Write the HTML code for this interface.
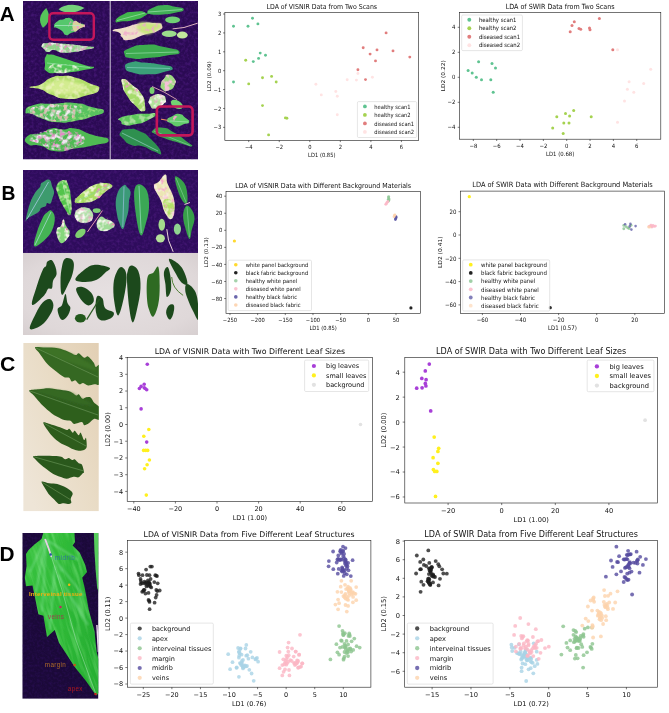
<!DOCTYPE html>
<html><head><meta charset="utf-8"><title>LDA figure</title>
<style>
html,body{margin:0;padding:0;background:#fff;}
svg{display:block;}
text{font-family:"DejaVu Sans","Liberation Sans",sans-serif;fill:#111;}
.pl{font-family:"Liberation Sans",sans-serif;font-weight:bold;font-size:19.3px;fill:#000;}
</style></head><body>
<svg width="669" height="713" viewBox="0 0 669 713">
<defs>
<filter id="b1" x="-5%" y="-5%" width="110%" height="110%"><feGaussianBlur stdDeviation="0.45"/></filter>
<filter id="b2" x="-20%" y="-20%" width="140%" height="140%"><feGaussianBlur stdDeviation="0.9"/></filter>
<filter id="b3" x="-30%" y="-30%" width="160%" height="160%"><feGaussianBlur stdDeviation="1.6"/></filter>
<filter id="sp" x="-5%" y="-5%" width="110%" height="110%" color-interpolation-filters="sRGB">
<feTurbulence type="fractalNoise" baseFrequency="0.2" numOctaves="2" seed="5" result="n"/>
<feColorMatrix in="n" type="matrix" values="0 0 0 0 1  0 0 0 0 1  0 0 0 0 1  4 0 0 0 -1.75" result="a"/>
<feComposite in="SourceGraphic" in2="a" operator="in" result="c"/>
<feGaussianBlur in="c" stdDeviation="0.5"/>
</filter>
<filter id="sp2" x="-5%" y="-5%" width="110%" height="110%" color-interpolation-filters="sRGB">
<feTurbulence type="fractalNoise" baseFrequency="0.25" numOctaves="2" seed="11" result="n"/>
<feColorMatrix in="n" type="matrix" values="0 0 0 0 1  0 0 0 0 1  0 0 0 0 1  0 4 0 0 -2.0" result="a"/>
<feComposite in="SourceGraphic" in2="a" operator="in" result="c"/>
<feGaussianBlur in="c" stdDeviation="0.5"/>
</filter>
<filter id="bgn" x="0" y="0" width="100%" height="100%" color-interpolation-filters="sRGB">
<feTurbulence type="fractalNoise" baseFrequency="0.35" numOctaves="2" seed="2" result="n"/>
<feColorMatrix in="n" type="matrix" values="0 0 0 0 0.27  0 0 0 0 0.09  0 0 0 0 0.46  0 0 2 0 -0.8" result="a"/>
<feGaussianBlur in="a" stdDeviation="0.5" result="ab"/>
<feComposite in="ab" in2="SourceGraphic" operator="in" result="c"/>
<feMerge><feMergeNode in="SourceGraphic"/><feMergeNode in="c"/></feMerge>
</filter>
<filter id="streak" x="0" y="0" width="100%" height="100%" color-interpolation-filters="sRGB">
<feTurbulence type="fractalNoise" baseFrequency="0.3 0.035" numOctaves="2" seed="8" result="n"/>
<feColorMatrix in="n" type="matrix" values="0 0 0 0 1  0 0 0 0 1  0 0 0 0 1  2.6 0 0 0 -1.15" result="a"/>
<feComposite in="SourceGraphic" in2="a" operator="in" result="c"/>
<feGaussianBlur in="c" stdDeviation="0.5"/>
</filter>
<filter id="bgn2" x="0" y="0" width="100%" height="100%" color-interpolation-filters="sRGB">
<feTurbulence type="fractalNoise" baseFrequency="0.4" numOctaves="2" seed="4" result="n"/>
<feColorMatrix in="n" type="matrix" values="0 0 0 0 0.17  0 0 0 0 0.06  0 0 0 0 0.34  0 0 1.4 0 -0.55" result="a"/>
<feGaussianBlur in="a" stdDeviation="0.5" result="ab"/>
<feComposite in="ab" in2="SourceGraphic" operator="in" result="c"/>
<feMerge><feMergeNode in="SourceGraphic"/><feMergeNode in="c"/></feMerge>
</filter>
<clipPath id="cA"><rect x="23" y="1" width="175" height="158.5"/></clipPath>
<clipPath id="cB1"><rect x="23" y="170" width="175" height="83"/></clipPath>
<clipPath id="cB2"><rect x="23" y="252.8" width="175" height="82.2"/></clipPath>
<clipPath id="cC"><rect x="23.2" y="343.1" width="75.6" height="168.2"/></clipPath>
<clipPath id="cD"><rect x="22.3" y="532.9" width="76.1" height="165.9"/></clipPath>
<linearGradient id="gC" x1="1" y1="0" x2="0" y2="0.8"><stop offset="0" stop-color="#e2cfb4"/><stop offset="0.5" stop-color="#e9dcc6"/><stop offset="1" stop-color="#eee5d7"/></linearGradient>
<radialGradient id="gB2" cx="0.5" cy="0.5" r="0.8"><stop offset="0" stop-color="#e6e0e1"/><stop offset="0.65" stop-color="#dfd8d9"/><stop offset="1" stop-color="#d3cbcc"/></radialGradient>
<linearGradient id="gLeafD" x1="0" y1="0" x2="1" y2="0.3"><stop offset="0" stop-color="#38c23e"/><stop offset="0.5" stop-color="#30bb38"/><stop offset="1" stop-color="#28b033"/></linearGradient>
</defs>
<text class="pl" transform="translate(-0.2 20.7) scale(1.07 1.02)">A</text>
<text class="pl" transform="translate(1.6 199.8) scale(1.0 1.02)">B</text>
<text class="pl" transform="translate(0 371.3) scale(1.1 1.03)">C</text>
<text class="pl" transform="translate(-0.4 560.9) scale(1.08 1.0)">D</text>
<g clip-path="url(#cA)">
<rect x="23" y="1" width="175" height="158.5" fill="#2b0a54" filter="url(#bgn)"/>
<g filter="url(#b1)">
<path d="M42.9,27.7C38.0,21.8 39.4,13.9 46.3,8.1C50.9,16.0 49.5,23.8 42.9,27.7Z" fill="#56c45a" />
<path d="M58.5,9.3C64.7,3.7 75.1,3.2 84.5,7.9C75.7,13.6 65.3,14.1 58.5,9.3Z" fill="#74d27a" />
<path d="M54.0,26.0C54.0,23.5 55.0,23.2 58.0,21.0C61.0,18.8 60.0,20.5 63.0,19.5C66.0,18.5 64.3,18.3 67.0,18.0C69.7,17.7 68.7,17.5 71.0,18.5C73.3,19.5 71.3,19.5 74.0,21.0C76.7,22.5 75.7,21.7 79.0,23.0C82.3,24.3 83.7,23.3 84.0,25.0C84.3,26.7 82.7,26.0 80.0,28.0C77.3,30.0 79.0,29.3 76.0,31.0C73.0,32.7 74.3,31.7 71.0,33.0C67.7,34.3 69.0,35.7 66.0,35.0C63.0,34.3 64.7,33.2 62.0,31.0C59.3,28.8 60.7,30.2 58.0,28.5C55.3,26.8 54.0,28.5 54.0,26.0Z" fill="#55c76c" />
<path d="M74.0,21.5C76.3,19.2 77.3,22.7 81.0,24.0C84.7,25.3 85.3,24.0 85.0,25.5C84.7,27.0 83.7,26.7 80.0,28.5C76.3,30.3 76.0,33.3 74.0,31.0C72.0,28.7 71.7,23.8 74.0,21.5Z" fill="#d9d49a" />
<path d="M72.0,20.0C76.7,17.0 81.3,20.7 84.0,24.0C86.7,27.3 84.7,27.0 80.0,30.0C75.3,33.0 72.7,36.3 70.0,33.0C67.3,29.7 67.3,23.0 72.0,20.0Z" fill="#f0a0c8" filter="url(#sp2)" opacity="1.00"/>
<path d="M55,25.5 L80,25.5" stroke="#b8ecd0" stroke-width="0.8" opacity="0.8"/>
<path d="M42.0,45.0C43.3,43.0 42.0,43.5 48.0,43.0C54.0,42.5 52.0,43.0 60.0,43.5C68.0,44.0 64.0,43.7 72.0,44.5C80.0,45.3 76.7,45.0 84.0,46.0C91.3,47.0 94.0,46.2 94.0,47.5C94.0,48.8 90.7,48.5 84.0,50.0C77.3,51.5 81.3,51.2 74.0,52.0C66.7,52.8 68.7,53.2 62.0,52.5C55.3,51.8 58.7,50.2 54.0,50.0C49.3,49.8 51.3,52.3 48.0,52.0C44.7,51.7 46.0,51.3 44.0,49.0C42.0,46.7 40.7,47.0 42.0,45.0Z" fill="#8fd68a" />
<path d="M42.0,45.0C43.3,43.0 42.0,43.5 48.0,43.0C54.0,42.5 52.0,43.0 60.0,43.5C68.0,44.0 64.0,43.7 72.0,44.5C80.0,45.3 76.7,45.0 84.0,46.0C91.3,47.0 94.0,46.2 94.0,47.5C94.0,48.8 90.7,48.5 84.0,50.0C77.3,51.5 81.3,51.2 74.0,52.0C66.7,52.8 68.7,53.2 62.0,52.5C55.3,51.8 58.7,50.2 54.0,50.0C49.3,49.8 51.3,52.3 48.0,52.0C44.7,51.7 46.0,51.3 44.0,49.0C42.0,46.7 40.7,47.0 42.0,45.0Z" fill="#f4e8ee" filter="url(#sp)" opacity="1.00"/>
<path d="M42.0,45.0C43.3,43.0 42.0,43.5 48.0,43.0C54.0,42.5 52.0,43.0 60.0,43.5C68.0,44.0 64.0,43.7 72.0,44.5C80.0,45.3 76.7,45.0 84.0,46.0C91.3,47.0 94.0,46.2 94.0,47.5C94.0,48.8 90.7,48.5 84.0,50.0C77.3,51.5 81.3,51.2 74.0,52.0C66.7,52.8 68.7,53.2 62.0,52.5C55.3,51.8 58.7,50.2 54.0,50.0C49.3,49.8 51.3,52.3 48.0,52.0C44.7,51.7 46.0,51.3 44.0,49.0C42.0,46.7 40.7,47.0 42.0,45.0Z" fill="#e78fc0" filter="url(#sp2)" opacity="0.90"/>
<path d="M46.0,56.0C47.7,52.8 45.3,54.2 50.0,54.5C54.7,54.8 52.7,54.8 60.0,57.0C67.3,59.2 63.3,58.2 72.0,61.0C80.7,63.8 78.7,63.3 86.0,65.5C93.3,67.7 94.7,66.0 94.0,67.5C93.3,69.0 91.3,68.5 84.0,70.0C76.7,71.5 80.7,71.0 72.0,72.0C63.3,73.0 66.3,73.2 58.0,73.0C49.7,72.8 51.3,74.5 47.0,71.5C42.7,68.5 45.3,69.2 45.0,64.0C44.7,58.8 44.3,59.2 46.0,56.0Z" fill="#4fc455" />
<path d="M50.0,66.0C52.7,63.2 52.7,63.5 62.0,64.0C71.3,64.5 75.3,64.8 78.0,67.5C80.7,70.2 78.0,70.3 70.0,72.0C62.0,73.7 60.7,74.5 54.0,72.5C47.3,70.5 47.3,68.8 50.0,66.0Z" fill="#e8f0d8" filter="url(#sp)" opacity="1.00"/>
<path d="M47,63 L90,67.5" stroke="#a8e8c0" stroke-width="0.8" opacity="0.7"/>
<path d="M29.6,87.2C29.6,85.6 33.3,87.6 40.6,84.4C47.9,81.2 44.1,80.4 51.6,77.6C59.1,74.8 55.2,76.0 63.0,76.0C70.8,76.0 66.4,75.2 75.0,77.6C83.6,80.0 80.8,79.2 88.8,83.1C96.8,87.0 100.5,85.0 99.1,89.3C97.7,93.6 95.4,92.9 84.6,96.1C73.8,99.3 77.8,99.3 66.8,98.9C55.8,98.5 60.3,98.0 51.6,94.8C42.9,91.6 47.9,91.8 40.6,89.3C33.3,86.8 29.6,88.8 29.6,87.2Z" fill="#b2de6a" />
<path d="M45.0,87.0C45.7,83.3 47.7,83.0 56.0,81.0C64.3,79.0 60.7,78.7 70.0,81.0C79.3,83.3 84.0,83.7 84.0,88.0C84.0,92.3 80.0,92.7 70.0,94.0C60.0,95.3 62.3,94.3 54.0,92.0C45.7,89.7 44.3,90.7 45.0,87.0Z" fill="#dcf09a" filter="url(#b2)" opacity="0.8"/>
<path d="M29.6,87.2C29.6,85.6 33.3,87.6 40.6,84.4C47.9,81.2 44.1,80.4 51.6,77.6C59.1,74.8 55.2,76.0 63.0,76.0C70.8,76.0 66.4,75.2 75.0,77.6C83.6,80.0 80.8,79.2 88.8,83.1C96.8,87.0 100.5,85.0 99.1,89.3C97.7,93.6 95.4,92.9 84.6,96.1C73.8,99.3 77.8,99.3 66.8,98.9C55.8,98.5 60.3,98.0 51.6,94.8C42.9,91.6 47.9,91.8 40.6,89.3C33.3,86.8 29.6,88.8 29.6,87.2Z" fill="#f6f4d0" filter="url(#sp)" opacity="0.55"/>
<path d="M25.5,112.0C26.0,109.0 24.2,107.9 33.8,105.1C43.4,102.3 40.7,104.4 54.4,103.7C68.1,103.0 62.6,101.9 75.0,103.0C87.4,104.1 81.9,104.3 91.5,107.1C101.1,109.9 103.9,108.1 103.9,111.3C103.9,114.5 101.1,113.6 91.5,116.8C81.9,120.0 86.5,119.1 75.0,120.9C63.5,122.7 68.6,123.2 57.1,122.3C45.6,121.4 48.8,120.9 40.6,118.1C32.4,115.3 37.4,116.0 32.4,114.0C27.4,112.0 25.0,115.0 25.5,112.0Z" fill="#58c25e" />
<path d="M30.0,111.0C30.7,107.2 31.3,107.5 42.0,105.5C52.7,103.5 49.3,104.2 62.0,105.0C74.7,105.8 75.3,104.3 80.0,108.0C84.7,111.7 83.3,111.7 76.0,116.0C68.7,120.3 70.0,120.7 58.0,121.0C46.0,121.3 49.3,120.3 40.0,117.0C30.7,113.7 29.3,114.8 30.0,111.0Z" fill="#f2eaf0" filter="url(#sp)" opacity="1.00"/>
<path d="M30.0,111.0C30.7,107.2 31.3,107.5 42.0,105.5C52.7,103.5 49.3,104.2 62.0,105.0C74.7,105.8 75.3,104.3 80.0,108.0C84.7,111.7 83.3,111.7 76.0,116.0C68.7,120.3 70.0,120.7 58.0,121.0C46.0,121.3 49.3,120.3 40.0,117.0C30.7,113.7 29.3,114.8 30.0,111.0Z" fill="#e890c8" filter="url(#sp2)" opacity="1.00"/>
<path d="M25.5,112.0C26.0,109.0 24.2,107.9 33.8,105.1C43.4,102.3 40.7,104.4 54.4,103.7C68.1,103.0 62.6,101.9 75.0,103.0C87.4,104.1 81.9,104.3 91.5,107.1C101.1,109.9 103.9,108.1 103.9,111.3C103.9,114.5 101.1,113.6 91.5,116.8C81.9,120.0 86.5,119.1 75.0,120.9C63.5,122.7 68.6,123.2 57.1,122.3C45.6,121.4 48.8,120.9 40.6,118.1C32.4,115.3 37.4,116.0 32.4,114.0C27.4,112.0 25.0,115.0 25.5,112.0Z" fill="#e0f0a0" filter="url(#sp2)" opacity="0.50"/>
<path d="M27.6,136.0C31.7,132.3 32.6,135.8 40.6,133.3C48.6,130.8 44.1,129.8 51.6,128.5C59.1,127.2 55.2,129.5 63.0,129.5C70.8,129.5 65.5,126.8 75.0,128.5C84.5,130.2 80.3,130.7 91.5,134.6C102.7,138.5 108.7,136.5 108.7,140.2C108.7,143.9 102.7,143.0 91.5,145.7C80.3,148.4 86.9,146.6 75.0,148.4C63.1,150.2 67.3,152.1 55.8,151.2C44.3,150.3 49.8,148.0 40.6,145.7C31.4,143.4 32.6,147.5 28.3,144.3C24.0,141.1 23.5,139.7 27.6,136.0Z" fill="#50ba53" />
<path d="M30.0,138.0C32.0,133.7 34.0,133.5 46.0,131.0C58.0,128.5 53.3,128.5 66.0,130.5C78.7,132.5 80.7,131.5 84.0,137.0C87.3,142.5 85.3,142.7 76.0,147.0C66.7,151.3 68.0,151.0 56.0,150.0C44.0,149.0 48.7,148.0 40.0,144.0C31.3,140.0 28.0,142.3 30.0,138.0Z" fill="#efe6f0" filter="url(#sp)" opacity="1.00"/>
<path d="M30.0,138.0C32.0,133.7 34.0,133.5 46.0,131.0C58.0,128.5 53.3,128.5 66.0,130.5C78.7,132.5 80.7,131.5 84.0,137.0C87.3,142.5 85.3,142.7 76.0,147.0C66.7,151.3 68.0,151.0 56.0,150.0C44.0,149.0 48.7,148.0 40.0,144.0C31.3,140.0 28.0,142.3 30.0,138.0Z" fill="#e58ac6" filter="url(#sp2)" opacity="1.00"/>
<path d="M115.6,21.3C115.6,19.0 116.9,17.6 123.1,14.4C129.3,11.2 126.8,12.4 134.1,11.7C141.4,11.0 141.9,10.8 145.1,12.4C148.3,14.0 147.5,14.0 143.8,16.5C140.1,19.0 141.0,18.3 134.1,19.9C127.2,21.5 129.3,20.8 123.1,21.3C116.9,21.8 115.6,23.6 115.6,21.3Z" fill="#43b64d" />
<path d="M117.0,20.5 L145.0,13.0" stroke="#b8ecc8" stroke-width="0.8" opacity="0.7"/>
<path d="M147.2,12.4C147.7,10.1 148.1,10.0 153.4,7.6C158.7,5.2 156.1,5.5 163.0,5.2C169.9,4.9 167.1,5.1 174.0,6.6C180.9,8.1 183.7,7.4 183.7,9.6C183.7,11.8 180.9,11.5 174.0,13.1C167.1,14.7 170.3,14.0 163.0,14.4C155.7,14.8 157.3,15.1 152.0,14.4C146.7,13.7 146.7,14.7 147.2,12.4Z" fill="#3fae55" />
<path d="M148.0,12.0 L182.0,9.6" stroke="#b8ecc8" stroke-width="0.8" opacity="0.7"/>
<ellipse cx="172.6" cy="19.9" rx="7.5" ry="3.4" fill="#6fd074"/>
<path d="M112.8,30.3C114.4,28.5 115.6,29.8 124.5,27.5C133.4,25.2 129.5,24.9 139.6,23.4C149.7,21.9 147.4,22.4 154.8,23.1C162.2,23.8 161.0,22.8 161.9,25.4C162.8,28.0 163.1,27.9 157.5,30.9C151.9,33.9 154.7,31.4 145.1,34.4C135.5,37.4 136.4,39.0 128.6,39.9C120.8,40.8 124.8,39.4 121.8,37.1C118.8,34.8 122.7,35.3 119.7,33.0C116.7,30.7 111.2,32.1 112.8,30.3Z" fill="#eedfc8" />
<path d="M138.0,24.0C141.3,20.7 146.3,23.0 154.0,23.5C161.7,24.0 160.3,23.2 161.0,25.5C161.7,27.8 161.7,27.8 156.0,30.5C150.3,33.2 150.0,35.7 144.0,33.5C138.0,31.3 134.7,27.3 138.0,24.0Z" fill="#c9e87e" filter="url(#b2)"/>
<path d="M112.8,30.3C114.4,28.5 115.6,29.8 124.5,27.5C133.4,25.2 129.5,24.9 139.6,23.4C149.7,21.9 147.4,22.4 154.8,23.1C162.2,23.8 161.0,22.8 161.9,25.4C162.8,28.0 163.1,27.9 157.5,30.9C151.9,33.9 154.7,31.4 145.1,34.4C135.5,37.4 136.4,39.0 128.6,39.9C120.8,40.8 124.8,39.4 121.8,37.1C118.8,34.8 122.7,35.3 119.7,33.0C116.7,30.7 111.2,32.1 112.8,30.3Z" fill="#f0a8cc" filter="url(#sp2)" opacity="0.80"/>
<ellipse cx="169.2" cy="33.7" rx="7.5" ry="3.2" fill="#9cdc8c"/>
<ellipse cx="182.3" cy="35.1" rx="5.5" ry="3.5" fill="#c4e89c"/>
<path d="M172.6,28.9 L184,27.5 L197.6,23.2" stroke="#dfb4c0" stroke-width="1" fill="none"/>
<path d="M124.5,54.3C123.6,50.8 122.7,51.3 130.0,48.1C137.3,44.9 135.5,45.1 146.5,44.7C157.5,44.3 152.0,44.4 163.0,46.8C174.0,49.2 178.6,49.0 179.5,52.0C180.4,55.0 175.9,53.8 165.8,55.7C155.7,57.6 160.3,56.9 149.3,57.8C138.3,58.7 141.1,59.7 132.8,58.5C124.5,57.3 125.4,57.8 124.5,54.3Z" fill="#3cab50" />
<path d="M126.0,53.5 L178.0,52.0" stroke="#b8ecc8" stroke-width="1.0" opacity="0.5"/>
<path d="M125.2,67.4C124.5,63.7 125.9,63.5 132.1,61.9C138.3,60.3 134.4,61.7 143.8,62.6C153.2,63.5 150.7,62.8 160.3,64.6C169.9,66.4 171.7,65.6 172.6,68.1C173.5,70.6 170.8,70.1 163.0,72.2C155.2,74.3 158.9,74.1 149.3,74.3C139.7,74.5 142.1,75.2 134.1,72.9C126.1,70.6 125.9,71.1 125.2,67.4Z" fill="#3aa078" />
<path d="M127.0,67.5 L170.0,68.5" stroke="#9fe0d8" stroke-width="1.0" opacity="0.5"/>
<path d="M123.8,78.9C127.0,78.9 126.4,80.3 132.1,85.1C137.8,89.9 136.7,87.0 141.0,93.4C145.3,99.8 144.2,98.4 144.9,104.4C145.6,110.4 146.2,110.8 143.1,111.3C140.0,111.8 140.8,110.9 135.5,105.8C130.2,100.7 131.7,103.0 127.3,96.1C122.9,89.2 123.6,90.8 122.4,85.1C121.2,79.4 120.6,78.9 123.8,78.9Z" fill="#a6dc6c" />
<path d="M123.8,78.9C127.0,78.9 126.4,80.3 132.1,85.1C137.8,89.9 136.7,87.0 141.0,93.4C145.3,99.8 144.2,98.4 144.9,104.4C145.6,110.4 146.2,110.8 143.1,111.3C140.0,111.8 140.8,110.9 135.5,105.8C130.2,100.7 131.7,103.0 127.3,96.1C122.9,89.2 123.6,90.8 122.4,85.1C121.2,79.4 120.6,78.9 123.8,78.9Z" fill="#f4f4e0" filter="url(#sp)" opacity="0.90"/>
<path d="M123.8,78.9C126.5,78.9 127.4,81.1 132.1,85.1C136.8,89.1 138.7,89.4 138.0,91.0C137.3,92.6 134.7,92.0 130.0,90.0C125.3,88.0 126.1,88.7 124.0,85.0C121.9,81.3 121.1,78.9 123.8,78.9Z" fill="#f09ac4" filter="url(#sp2)" opacity="1.00"/>
<path d="M167.8,74.8C171.0,74.8 171.7,74.9 174.0,78.3C176.3,81.7 176.5,81.0 174.7,85.1C172.9,89.2 172.6,89.2 168.5,90.6C164.4,92.0 164.8,91.6 162.3,89.3C159.8,87.0 160.3,87.5 161.0,83.8C161.7,80.1 162.1,81.3 164.4,78.3C166.7,75.3 164.6,74.8 167.8,74.8Z" fill="#9cdc80" />
<path d="M167.8,74.8C171.0,74.8 171.7,74.9 174.0,78.3C176.3,81.7 176.5,81.0 174.7,85.1C172.9,89.2 172.6,89.2 168.5,90.6C164.4,92.0 164.8,91.6 162.3,89.3C159.8,87.0 160.3,87.5 161.0,83.8C161.7,80.1 162.1,81.3 164.4,78.3C166.7,75.3 164.6,74.8 167.8,74.8Z" fill="#f4c0d8" filter="url(#sp)" opacity="1.00"/>
<ellipse cx="152" cy="90.6" rx="2.5" ry="3.5" fill="#78d070"/>
<path d="M152,86.5 L164,92 L176.8,99.6" stroke="#dfa8b4" stroke-width="0.9" fill="none"/>
<path d="M149.3,99.6C150.4,96.4 149.3,97.0 153.4,95.4C157.5,93.8 157.5,93.4 161.6,94.8C165.7,96.2 165.3,96.4 165.8,99.6C166.3,102.8 166.7,101.4 163.0,104.4C159.3,107.4 159.1,108.3 154.8,108.5C150.5,108.7 151.8,108.1 150.0,105.1C148.2,102.1 148.2,102.8 149.3,99.6Z" fill="#b2e49c" />
<path d="M149.3,99.6C150.4,96.4 149.3,97.0 153.4,95.4C157.5,93.8 157.5,93.4 161.6,94.8C165.7,96.2 165.3,96.4 165.8,99.6C166.3,102.8 166.7,101.4 163.0,104.4C159.3,107.4 159.1,108.3 154.8,108.5C150.5,108.7 151.8,108.1 150.0,105.1C148.2,102.1 148.2,102.8 149.3,99.6Z" fill="#fafaf4" filter="url(#sp)" opacity="1.00"/>
<path d="M149.3,99.6C150.4,96.4 149.3,97.0 153.4,95.4C157.5,93.8 157.5,93.4 161.6,94.8C165.7,96.2 165.3,96.4 165.8,99.6C166.3,102.8 166.7,101.4 163.0,104.4C159.3,107.4 159.1,108.3 154.8,108.5C150.5,108.7 151.8,108.1 150.0,105.1C148.2,102.1 148.2,102.8 149.3,99.6Z" fill="#f0a0c8" filter="url(#sp2)" opacity="0.70"/>
<ellipse cx="176.8" cy="104.4" rx="6.5" ry="3.8" fill="#72d272" transform="rotate(30 176.8 104.4)"/>
<path d="M119.7,118.1C123.6,115.8 123.9,116.2 132.8,114.7C141.7,113.2 138.9,113.9 146.5,113.7C154.1,113.5 155.0,111.8 155.5,114.0C156.0,116.2 154.6,116.8 147.9,120.2C141.2,123.6 143.3,122.7 135.5,124.3C127.7,125.9 129.3,125.9 124.5,125.0C119.7,124.1 122.7,123.9 121.1,121.6C119.5,119.3 115.8,120.4 119.7,118.1Z" fill="#5ec85c" />
<path d="M119.7,118.1C123.6,115.8 123.9,116.2 132.8,114.7C141.7,113.2 138.9,113.9 146.5,113.7C154.1,113.5 155.0,111.8 155.5,114.0C156.0,116.2 154.6,116.8 147.9,120.2C141.2,123.6 143.3,122.7 135.5,124.3C127.7,125.9 129.3,125.9 124.5,125.0C119.7,124.1 122.7,123.9 121.1,121.6C119.5,119.3 115.8,120.4 119.7,118.1Z" fill="#eef4d8" filter="url(#sp)" opacity="0.50"/>
<path d="M167.1,120.2C167.5,117.7 168.5,118.2 172.6,116.1C176.7,114.0 175.4,113.5 179.5,114.0C183.6,114.5 181.8,114.8 185.0,117.5C188.2,120.2 189.6,119.7 189.2,122.0C188.8,124.3 187.8,122.8 183.7,124.3C179.6,125.8 180.9,126.6 176.8,126.4C172.7,126.2 174.5,125.7 171.3,123.6C168.1,121.5 166.7,122.7 167.1,120.2Z" fill="#62ca6a" />
<path d="M167.1,120.2C167.6,118.4 168.5,118.2 172.6,116.1C176.7,114.0 177.7,113.0 179.5,114.0C181.3,115.0 180.8,116.5 178.0,119.0C175.2,121.5 174.6,121.1 171.0,121.5C167.4,121.9 166.6,122.0 167.1,120.2Z" fill="#f0a8c8" filter="url(#sp2)" opacity="1.00"/>
<path d="M161,119.2 L167.5,120.3" stroke="#f09060" stroke-width="1"/>
<path d="M170.0,121.0 L188.0,122.0" stroke="#b8ecc8" stroke-width="0.8" opacity="0.7"/>
<path d="M120.4,132.6C122.2,129.4 122.2,129.6 128.6,129.1C135.0,128.6 132.3,128.0 139.6,131.2C146.9,134.4 143.5,131.7 150.6,138.8C157.7,145.9 160.1,148.4 161.0,152.5C161.9,156.6 159.6,153.3 153.4,151.2C147.2,149.1 149.7,148.4 142.4,146.3C135.1,144.2 137.8,147.5 131.4,145.0C125.0,142.5 126.8,142.9 123.1,138.8C119.4,134.7 118.6,135.8 120.4,132.6Z" fill="#2f9050" />
<path d="M122.0,133.0 L158.0,151.0" stroke="#9fd8d0" stroke-width="0.9" opacity="0.7"/>
<path d="M152.7,130.5C155.0,128.2 155.9,127.1 163.0,127.8C170.1,128.5 166.7,128.5 174.0,132.6C181.3,136.7 179.0,135.6 185.0,140.2C191.0,144.8 193.7,145.4 191.9,146.3C190.1,147.2 188.2,145.4 179.5,142.9C170.8,140.4 173.6,141.6 165.8,138.8C158.0,136.0 160.5,137.4 156.1,134.6C151.7,131.8 150.4,132.8 152.7,130.5Z" fill="#3ca250" />
<path d="M154.0,131.0 L190.0,145.5" stroke="#b8ecc8" stroke-width="0.8" opacity="0.5"/>
</g>
<rect x="109.7" y="1" width="1" height="158.5" fill="#cfc8d8"/>
<rect x="49.4" y="13.3" width="44.4" height="26.5" rx="3.6" fill="none" stroke="#c4165a" stroke-width="2.4"/>
<rect x="156.85" y="106.45" width="35.75" height="28.9" rx="3.8" fill="none" stroke="#c4165a" stroke-width="2.6"/>
</g>
<g clip-path="url(#cB1)">
<rect x="23" y="170" width="175" height="83" fill="#2e0c5c" filter="url(#bgn)"/>
<g filter="url(#b1)">
<path d="M25.7,220.5C26.0,217.9 28.1,208.7 29.9,203.5C31.7,198.3 33.7,195.1 35.6,192.1C37.5,189.1 39.0,188.6 40.0,187.0C41.0,185.4 40.2,184.5 41.0,183.5C41.8,182.5 42.9,182.2 44.1,181.5C45.3,180.8 46.3,179.6 47.5,179.5C48.7,179.4 49.7,179.6 50.5,180.8C51.3,182.0 51.3,183.9 52.0,186.0C52.7,188.1 54.0,189.9 54.1,192.1C54.2,194.3 53.2,195.9 52.5,198.0C51.8,200.1 51.5,202.6 50.5,203.5C49.5,204.4 47.9,202.5 47.0,203.0C46.1,203.5 46.7,205.4 45.6,206.3C44.5,207.2 42.3,207.0 41.0,208.0C39.7,209.0 40.8,210.2 38.5,212.0C36.2,213.8 30.8,216.1 28.5,217.7C26.2,219.3 25.4,223.1 25.7,220.5Z" fill="#3e9b6e" />
<path d="M27.0,219.0 L48.5,182.0" stroke="#b0d0ee" stroke-width="0.9" opacity="0.8"/>
<path d="M56.9,185.0C58.1,182.5 61.9,180.1 64.0,180.1C66.1,180.1 67.0,181.5 68.3,185.0C69.6,188.5 70.7,193.7 71.1,199.2C71.5,204.7 72.0,213.9 70.4,214.9C68.8,215.9 64.9,208.8 62.6,204.9C60.3,201.0 58.6,197.2 57.6,193.6C56.6,190.0 55.7,187.5 56.9,185.0Z" fill="#52c44c" />
<path d="M56.9,185.0C59.0,180.5 60.2,180.1 64.0,180.1C67.8,180.1 65.9,178.6 68.3,185.0C70.7,191.4 70.4,189.2 71.1,199.2C71.8,209.2 73.2,213.0 70.4,214.9C67.6,216.8 66.9,212.0 62.6,204.9C58.3,197.8 59.5,200.2 57.6,193.6C55.7,187.0 54.8,189.5 56.9,185.0Z" fill="#e8f4c0" filter="url(#sp)" opacity="0.70"/>
<path d="M62.5,182.0 L70.0,213.0" stroke="#c8f0d0" stroke-width="0.8" opacity="0.6"/>
<path d="M74.7,202.1C74.2,200.4 77.6,196.7 81.1,193.6C84.6,190.5 89.4,187.0 93.8,185.0C98.2,183.0 101.8,182.8 105.2,182.9C108.6,183.0 112.3,184.1 112.3,185.8C112.3,187.5 108.3,189.5 105.2,192.1C102.1,194.7 99.2,198.0 95.3,200.0C91.4,202.0 87.7,202.4 83.9,202.8C80.1,203.2 75.2,203.8 74.7,202.1Z" fill="#a8dc62" />
<path d="M74.7,202.1C73.8,199.0 74.7,199.3 81.1,193.6C87.5,187.9 85.8,188.6 93.8,185.0C101.8,181.4 99.0,182.6 105.2,182.9C111.4,183.2 112.3,182.7 112.3,185.8C112.3,188.9 110.9,187.4 105.2,192.1C99.5,196.8 102.4,196.4 95.3,200.0C88.2,203.6 90.8,202.1 83.9,202.8C77.0,203.5 75.6,205.2 74.7,202.1Z" fill="#f4f6dc" filter="url(#sp)" opacity="0.90"/>
<path d="M96.0,192.0C98.3,187.3 98.6,187.1 104.0,185.0C109.4,182.9 111.9,183.4 112.3,185.8C112.7,188.2 110.3,187.7 105.2,192.1C100.1,196.5 100.1,199.0 97.0,199.0C93.9,199.0 93.7,196.7 96.0,192.0Z" fill="#f08cc0" filter="url(#sp2)" opacity="1.00"/>
<path d="M76.0,201.5 L110.0,185.5" stroke="#78d8a0" stroke-width="0.8" opacity="0.6"/>
<path d="M34.2,246.1C32.9,244.5 35.4,237.1 37.0,231.9C38.6,226.7 40.9,221.3 42.7,217.7C44.5,214.1 45.4,213.8 47.0,212.5C48.6,211.2 49.8,209.6 51.2,210.6C52.6,211.6 54.7,214.1 54.8,217.7C54.9,221.3 54.0,226.3 52.0,230.5C50.0,234.7 47.4,237.5 44.1,240.4C40.8,243.3 35.5,247.7 34.2,246.1Z" fill="#45b455" />
<path d="M35.0,245.0 L51.0,212.0" stroke="#c0e0f0" stroke-width="0.9" opacity="0.7"/>
<path d="M56.9,229.1C57.5,227.0 59.8,227.8 61.0,226.0C62.2,224.2 62.6,219.5 63.5,219.5C64.4,219.5 64.9,223.7 66.0,226.0C67.1,228.3 69.5,229.5 69.7,231.9C69.9,234.3 68.5,236.9 66.9,239.0C65.3,241.1 62.9,243.6 61.2,243.3C59.5,243.0 58.4,240.2 57.6,237.6C56.8,235.0 56.3,231.2 56.9,229.1Z" fill="#86d67c" />
<path d="M56.9,229.1C58.0,225.2 58.8,229.2 61.0,226.0C63.2,222.8 61.8,219.5 63.5,219.5C65.2,219.5 63.9,221.9 66.0,226.0C68.1,230.1 69.4,227.6 69.7,231.9C70.0,236.2 69.7,235.2 66.9,239.0C64.1,242.8 64.3,243.8 61.2,243.3C58.1,242.8 59.0,242.3 57.6,237.6C56.2,232.9 55.8,233.0 56.9,229.1Z" fill="#f6f2e8" filter="url(#sp)" opacity="1.00"/>
<path d="M61.0,226.0C61.2,222.8 61.8,219.5 63.5,219.5C65.2,219.5 64.5,222.2 66.0,226.0C67.5,229.8 69.0,230.0 68.0,231.0C67.0,232.0 65.3,230.7 63.0,229.0C60.7,227.3 60.8,229.2 61.0,226.0Z" fill="#e870a8" filter="url(#sp2)" opacity="1.00"/>
<path d="M75.0,213.0C75.5,211.1 77.0,209.5 79.0,208.5C81.0,207.5 83.7,207.0 86.0,207.5C88.3,208.0 90.2,209.3 91.5,211.0C92.8,212.7 93.5,215.0 93.0,217.0C92.5,219.0 91.2,221.0 89.0,222.0C86.8,223.0 83.4,223.1 81.0,222.5C78.6,221.9 77.1,220.7 76.0,219.0C74.9,217.3 74.5,214.9 75.0,213.0Z" fill="#b4e2ac" />
<path d="M75.0,213.0C76.0,209.5 75.3,210.3 79.0,208.5C82.7,206.7 81.8,206.7 86.0,207.5C90.2,208.3 89.2,207.8 91.5,211.0C93.8,214.2 93.8,213.3 93.0,217.0C92.2,220.7 93.0,220.2 89.0,222.0C85.0,223.8 85.3,223.5 81.0,222.5C76.7,221.5 78.0,222.2 76.0,219.0C74.0,215.8 74.0,216.5 75.0,213.0Z" fill="#fbfbf6" filter="url(#sp)" opacity="1.00"/>
<path d="M75.0,213.0C76.0,209.5 75.3,210.3 79.0,208.5C82.7,206.7 81.8,206.7 86.0,207.5C90.2,208.3 89.2,207.8 91.5,211.0C93.8,214.2 93.8,213.3 93.0,217.0C92.2,220.7 93.0,220.2 89.0,222.0C85.0,223.8 85.3,223.5 81.0,222.5C76.7,221.5 78.0,222.2 76.0,219.0C74.0,215.8 74.0,216.5 75.0,213.0Z" fill="#f0a0c8" filter="url(#sp2)" opacity="0.70"/>
<ellipse cx="80.4" cy="233.3" rx="6" ry="3.6" fill="#7fd070" transform="rotate(-38 80.4 233.3)"/>
<path d="M97.0,222.0C97.6,219.9 99.3,217.1 101.0,216.5C102.7,215.9 104.2,218.2 106.0,219.0C107.8,219.8 109.4,219.9 111.0,221.0C112.6,222.1 114.7,223.4 114.5,225.0C114.3,226.6 112.3,228.4 110.0,229.5C107.7,230.6 104.3,231.3 102.0,231.0C99.7,230.7 98.4,229.7 97.5,228.0C96.6,226.3 96.4,224.1 97.0,222.0Z" fill="#a0dc98" />
<path d="M97.0,222.0C98.2,218.2 98.0,217.5 101.0,216.5C104.0,215.5 102.7,217.5 106.0,219.0C109.3,220.5 108.2,219.0 111.0,221.0C113.8,223.0 114.8,222.2 114.5,225.0C114.2,227.8 114.2,227.5 110.0,229.5C105.8,231.5 106.2,231.5 102.0,231.0C97.8,230.5 99.2,231.0 97.5,228.0C95.8,225.0 95.8,225.8 97.0,222.0Z" fill="#f6f6ee" filter="url(#sp)" opacity="1.00"/>
<path d="M106.0,219.0C106.3,217.3 108.2,219.0 111.0,221.0C113.8,223.0 114.8,223.3 114.5,225.0C114.2,226.7 112.8,228.0 110.0,226.0C107.2,224.0 105.7,220.7 106.0,219.0Z" fill="#f08cb8" filter="url(#sp2)" opacity="1.00"/>
<ellipse cx="96.7" cy="210.6" rx="4" ry="2.3" fill="#7ed078"/>
<path d="M102.4,210.6 L87.5,231.9" stroke="#e59ab0" stroke-width="1" fill="none"/>
<path d="M124.2,185.0C125.8,184.3 125.8,185.7 127.0,187.0C128.2,188.3 130.2,189.5 130.6,192.1C131.0,194.7 129.4,197.6 129.0,201.0C128.6,204.4 129.0,207.1 128.4,210.6C127.9,214.1 127.0,216.6 126.0,220.0C125.0,223.4 124.1,228.7 122.8,229.1C121.5,229.5 120.0,224.6 119.0,222.0C118.0,219.4 117.7,218.5 117.1,214.9C116.5,211.3 115.4,206.5 115.7,202.1C116.0,197.7 116.9,193.8 118.5,190.7C120.1,187.6 122.6,185.7 124.2,185.0Z" fill="#3b9a78" />
<path d="M124.0,186.5 L122.8,227.0" stroke="#a8c8f0" stroke-width="1.0" opacity="0.6"/>
<path d="M138.4,184.3C140.7,183.8 145.0,186.4 146.9,190.7C148.8,195.0 149.3,201.5 149.0,207.8C148.7,214.1 146.9,219.7 145.5,224.8C144.1,229.9 142.8,236.0 141.2,235.5C139.6,235.0 138.3,229.7 137.0,222.0C135.7,214.3 133.8,200.5 134.1,193.6C134.4,186.7 136.1,184.8 138.4,184.3Z" fill="#3aa855" />
<path d="M139.0,186.0 L141.2,233.0" stroke="#b0e4d8" stroke-width="1.0" opacity="0.6"/>
<path d="M165.4,174.4C167.0,174.8 166.1,179.6 167.5,183.6C168.9,187.6 171.9,191.7 173.2,196.4C174.5,201.1 175.0,205.0 174.6,209.2C174.2,213.4 172.8,218.6 171.0,219.1C169.2,219.6 166.4,215.4 164.6,212.0C162.8,208.6 163.0,205.4 161.1,200.7C159.2,196.0 154.4,190.0 154.0,186.5C153.6,183.0 156.9,183.7 159.0,181.5C161.1,179.3 163.8,174.0 165.4,174.4Z" fill="#ece6b4" />
<path d="M165.0,199.0C166.7,198.3 170.3,199.0 172.0,201.0C173.7,203.0 174.2,206.9 174.0,210.0C173.8,213.1 172.5,217.6 171.0,218.0C169.5,218.4 167.5,214.4 166.0,212.0C164.5,209.6 163.2,207.4 163.0,205.0C162.8,202.6 163.3,199.7 165.0,199.0Z" fill="#b4e068" />
<path d="M165.4,174.4C168.2,175.1 164.9,176.3 167.5,183.6C170.1,190.9 170.8,187.9 173.2,196.4C175.6,204.9 175.3,201.6 174.6,209.2C173.9,216.8 174.3,218.2 171.0,219.1C167.7,220.0 167.9,218.1 164.6,212.0C161.3,205.9 164.6,209.2 161.1,200.7C157.6,192.2 154.7,192.9 154.0,186.5C153.3,180.1 155.2,185.5 159.0,181.5C162.8,177.5 162.6,173.7 165.4,174.4Z" fill="#f6a8c8" filter="url(#sp2)" opacity="0.90"/>
<path d="M165.4,174.4C168.2,175.1 164.9,176.3 167.5,183.6C170.1,190.9 170.8,187.9 173.2,196.4C175.6,204.9 175.3,201.6 174.6,209.2C173.9,216.8 174.3,218.2 171.0,219.1C167.7,220.0 167.9,218.1 164.6,212.0C161.3,205.9 164.6,209.2 161.1,200.7C157.6,192.2 154.7,192.9 154.0,186.5C153.3,180.1 155.2,185.5 159.0,181.5C162.8,177.5 162.6,173.7 165.4,174.4Z" fill="#fbf8ee" filter="url(#sp)" opacity="0.60"/>
<path d="M175.3,176.5C176.6,175.5 182.3,180.2 184.5,183.6C186.7,187.0 187.0,191.4 187.4,195.0C187.8,198.6 187.6,202.5 186.7,203.5C185.8,204.5 184.1,203.3 182.4,200.7C180.7,198.1 178.7,193.7 177.4,189.3C176.1,184.9 174.0,177.5 175.3,176.5Z" fill="#37a04a" />
<path d="M176.0,178.0 L186.0,202.0" stroke="#b8ecc8" stroke-width="0.8" opacity="0.5"/>
<path d="M186.7,205.6C188.4,204.8 190.9,208.1 192.3,210.6C193.7,213.1 194.6,215.5 194.5,219.1C194.4,222.7 192.5,226.9 191.6,230.5C190.7,234.1 190.7,239.5 189.5,239.0C188.3,238.5 186.4,232.0 185.2,227.6C184.0,223.2 182.8,218.9 183.1,214.9C183.4,210.9 185.0,206.4 186.7,205.6Z" fill="#37a04a" />
<path d="M187.0,207.0 L189.5,237.0" stroke="#b8ecc8" stroke-width="0.8" opacity="0.5"/>
<path d="M184.5,204.5 L190,202.5" stroke="#e8c8d8" stroke-width="1"/>
<ellipse cx="161.8" cy="224.8" rx="3.3" ry="6" fill="#a4dc8c"/>
<ellipse cx="160.4" cy="238.3" rx="4.5" ry="4.1" fill="#b5e09a"/>
<ellipse cx="177.4" cy="229.1" rx="3.6" ry="5.6" fill="#8fd490"/>
<path d="M166.8,229.1 Q167,240 173.2,251.8" stroke="#ead4d8" stroke-width="1" fill="none"/>
</g></g>
<g clip-path="url(#cB2)">
<rect x="23" y="252.8" width="175" height="82.4" fill="url(#gB2)"/>
<g filter="url(#b1)">
<path d="M32.1,304.7C30.8,302.9 35.1,291.9 37.0,285.5C38.9,279.1 41.1,273.5 42.7,269.9C44.4,266.3 45.2,267.4 46.0,266.0C46.8,264.6 46.2,263.1 47.0,262.0C47.8,260.9 49.4,260.0 50.5,259.9C51.6,259.8 52.1,260.2 53.0,261.5C53.9,262.8 54.9,265.1 55.5,267.0C56.1,268.9 56.4,270.4 56.5,272.0C56.6,273.6 56.8,274.0 56.2,275.6C55.6,277.2 53.8,278.7 53.0,281.0C52.2,283.3 52.9,286.8 52.0,288.3C51.1,289.8 49.4,287.7 48.0,289.0C46.6,290.3 47.0,292.5 44.1,295.4C41.2,298.3 33.4,306.5 32.1,304.7Z" fill="#1f4a1f" />
<path d="M65.4,258.5C67.5,257.5 72.0,258.5 73.3,261.4C74.6,264.3 73.7,269.4 72.5,274.1C71.3,278.8 68.8,283.1 66.9,286.9C65.0,290.7 63.1,295.7 61.9,294.7C60.7,293.7 60.5,286.3 60.5,281.2C60.5,276.1 61.0,271.2 61.9,267.0C62.8,262.8 63.3,259.5 65.4,258.5Z" fill="#1f4a1f" />
<path d="M75.4,279.8C74.9,277.8 79.1,274.0 82.5,271.3C85.9,268.6 88.8,265.5 93.8,264.9C98.8,264.3 107.4,266.4 109.5,267.8C111.6,269.2 107.5,270.5 105.2,272.7C102.9,274.9 100.3,278.1 96.7,279.8C93.1,281.5 89.2,282.0 85.3,282.0C81.4,282.0 75.9,281.8 75.4,279.8Z" fill="#1f4a1f" />
<path d="M29.9,328.8C28.9,326.7 33.3,318.7 35.6,313.9C37.9,309.1 40.1,305.2 42.7,302.5C45.3,299.8 47.8,298.5 49.8,299.0C51.8,299.5 53.4,302.4 53.4,305.4C53.4,308.4 52.0,311.7 49.8,315.3C47.6,318.9 44.9,322.8 41.3,325.3C37.7,327.8 30.9,330.9 29.9,328.8Z" fill="#1f4a1f" />
<path d="M57.6,309.6C57.7,306.9 60.6,307.9 62.0,305.0C63.4,302.1 64.4,294.4 65.4,294.0C66.4,293.6 66.6,300.4 67.5,303.0C68.4,305.6 70.5,305.7 70.4,308.2C70.3,310.7 68.6,314.6 66.9,316.7C65.2,318.8 62.9,320.9 61.2,319.6C59.5,318.3 57.5,312.3 57.6,309.6Z" fill="#1f4a1f" />
<path d="M76.1,289.1C76.4,286.8 79.8,286.3 82.5,286.9C85.2,287.5 88.9,290.0 91.0,292.6C93.1,295.2 94.3,298.8 93.8,301.1C93.3,303.4 90.5,305.7 88.2,305.4C85.9,305.1 83.3,302.7 81.1,299.7C78.9,296.7 75.8,291.4 76.1,289.1Z" fill="#1f4a1f" />
<path d="M96.7,296.9C97.9,294.3 100.8,296.2 102.4,298.3C104.0,300.4 103.1,305.6 105.2,308.2C107.3,310.8 112.7,310.7 113.7,312.5C114.7,314.3 113.2,316.8 110.9,318.2C108.6,319.6 103.6,321.3 100.9,320.3C98.2,319.3 96.8,316.8 96.0,312.5C95.2,308.2 95.5,299.5 96.7,296.9Z" fill="#1f4a1f" />
<path d="M121.3,267.0C123.1,267.3 125.6,269.4 126.3,274.1C127.0,278.8 126.3,285.0 124.9,292.6C123.5,300.2 120.5,313.7 118.5,315.3C116.5,316.9 115.1,306.8 114.2,301.1C113.3,295.4 113.1,289.3 113.5,284.1C113.9,278.9 115.0,275.8 116.4,272.7C117.8,269.6 119.5,266.7 121.3,267.0Z" fill="#1f4a1f" />
<path d="M131.3,265.6C133.3,265.6 136.7,267.1 138.4,271.3C140.1,275.5 140.8,281.3 140.5,288.3C140.2,295.3 138.4,303.3 137.0,309.6C135.6,315.9 134.1,322.9 132.7,322.4C131.3,321.9 130.1,314.4 129.1,306.8C128.1,299.2 127.3,287.7 127.0,281.2C126.7,274.7 126.9,274.2 127.7,271.3C128.5,268.4 129.3,265.6 131.3,265.6Z" fill="#1f4a1f" />
<path d="M167.5,267.0C168.7,267.5 169.7,271.4 170.3,275.6C170.9,279.8 171.6,285.9 171.0,289.8C170.4,293.7 167.8,297.9 166.8,296.9C165.8,295.9 165.9,288.5 165.4,284.1C164.9,279.7 163.5,275.8 163.9,272.7C164.3,269.6 166.3,266.5 167.5,267.0Z" fill="#1f4a1f" />
<path d="M168.9,305.4C170.3,304.1 173.1,303.8 173.9,305.4C174.7,307.0 174.0,311.3 173.2,313.9C172.4,316.5 170.9,319.9 169.6,319.6C168.3,319.3 166.2,315.1 166.1,312.5C166.0,309.9 167.5,306.7 168.9,305.4Z" fill="#1f4a1f" />
<path d="M168.9,259.2C169.4,257.4 175.9,261.7 178.8,264.2C181.7,266.7 182.9,269.1 184.5,272.7C186.1,276.3 187.9,282.3 187.4,284.1C186.9,285.9 183.8,284.5 181.7,282.7C179.6,280.9 178.3,278.4 176.0,274.1C173.7,269.8 168.4,261.0 168.9,259.2Z" fill="#1f4a1f" />
<path d="M186.7,284.1C188.1,283.8 191.1,285.7 193.0,288.3C194.9,290.9 196.3,292.6 197.3,298.3C198.3,304.0 199.3,317.3 198.5,319.6C197.7,321.9 195.0,315.0 193.0,311.1C191.0,307.2 188.8,302.2 187.4,298.3C186.0,294.4 185.3,292.4 185.2,289.8C185.1,287.2 185.3,284.4 186.7,284.1Z" fill="#1f4a1f" />
<path d="M158.3,267.0C159.5,269.3 159.7,278.7 159.7,285.5C159.7,292.3 159.5,298.3 158.3,304.0C157.1,309.7 155.0,315.7 153.3,316.7C151.6,317.7 150.2,313.2 149.0,309.6C147.8,306.0 147.2,302.9 146.9,296.9C146.6,290.9 146.4,281.4 147.6,277.0C148.8,272.6 151.3,274.5 153.3,272.7C155.3,270.9 157.1,264.7 158.3,267.0Z" fill="#2f6a24" />
<ellipse cx="80.4" cy="318.2" rx="5.5" ry="4.3" fill="#24581f"/>
<path d="M99.5,299 L86.7,319.6" stroke="#2a5a22" stroke-width="1.2" fill="none"/>
<path d="M171.7,277 Q172,288 183.1,295.4" stroke="#4f7f34" stroke-width="1" fill="none"/>
</g></g>
<g clip-path="url(#cC)">
<rect x="23.2" y="343" width="75.7" height="168.3" fill="url(#gC)"/>
<g filter="url(#b1)">
<path d="M35.1,347.3C36.0,346.6 41.8,347.5 45.2,347.6C48.6,347.7 54.4,347.6 57.8,348.2C61.2,348.8 65.2,350.4 67.9,351.4C70.6,352.4 73.9,354.8 75.5,355.1C77.1,355.4 77.4,352.8 78.7,353.2C80.0,353.6 82.9,357.2 84.3,357.7C85.7,358.2 86.7,355.6 88.1,356.4C89.5,357.1 92.7,361.1 93.8,362.7C94.9,364.3 94.8,366.7 95.7,367.1C96.6,367.5 99.4,362.7 100.0,365.2C100.6,367.7 100.8,380.6 100.0,383.5C99.2,386.4 96.2,383.9 94.4,384.2C92.6,384.5 89.8,385.6 88.1,385.4C86.4,385.2 84.4,383.1 83.1,382.9C81.8,382.7 80.4,384.6 79.3,384.2C78.2,383.8 76.6,380.8 75.5,380.4C74.4,380.0 72.6,382.0 71.7,381.6C70.8,381.2 70.3,378.5 69.2,377.8C68.1,377.1 65.9,377.9 64.2,377.2C62.5,376.4 59.7,374.2 57.8,372.8C55.9,371.4 53.4,369.5 51.5,367.8C49.6,366.1 47.1,363.7 45.2,361.4C43.3,359.1 40.4,354.7 38.9,352.6C37.4,350.5 34.2,348.1 35.1,347.3Z" fill="#356722"/>
<path d="M29.1,390.5C29.9,389.6 35.9,389.5 38.9,389.2C41.9,388.9 45.8,388.1 49.0,388.2C52.2,388.3 57.2,389.3 60.4,389.8C63.6,390.3 68.1,390.8 70.5,391.7C72.9,392.6 74.9,395.1 76.1,395.5C77.3,395.9 77.8,393.7 78.7,394.2C79.6,394.7 81.4,398.2 82.4,398.7C83.4,399.2 84.4,397.6 85.6,397.4C86.8,397.2 89.3,396.5 90.6,397.4C91.9,398.3 93.0,401.5 94.4,403.1C95.8,404.7 99.2,405.6 100.0,408.1C100.8,410.6 100.8,417.9 100.0,419.5C99.2,421.1 96.1,418.2 94.4,418.8C92.7,419.4 90.3,422.3 88.8,423.3C87.3,424.3 85.3,425.4 84.3,425.2C83.2,425.0 83.3,422.2 81.8,422.0C80.3,421.8 75.9,424.1 74.2,423.9C72.5,423.7 72.0,421.3 70.5,420.7C69.0,420.1 66.1,420.7 64.2,420.1C62.3,419.5 59.7,418.0 57.8,417.0C55.9,416.0 53.8,414.9 51.5,413.2C49.2,411.5 45.3,408.3 42.7,405.6C40.1,402.9 35.9,397.8 33.9,395.5C31.9,393.2 28.4,391.4 29.1,390.5Z" fill="#2f5f1f"/>
<path d="M43.3,422.4C43.9,421.5 49.5,424.0 52.0,424.7C54.5,425.4 57.8,426.5 60.0,427.3C62.2,428.1 65.3,429.8 66.7,430.0C68.1,430.2 68.4,428.3 69.3,428.7C70.2,429.1 71.9,432.4 72.7,432.7C73.5,433.0 73.8,430.3 74.7,430.7C75.6,431.1 77.8,435.0 78.7,435.3C79.6,435.6 79.9,432.0 80.7,432.7C81.5,433.4 83.2,439.2 84.0,440.0C84.8,440.8 85.6,437.0 86.0,438.0C86.4,439.0 87.0,444.9 86.7,446.7C86.4,448.5 85.2,449.4 84.0,450.0C82.8,450.6 80.3,450.8 78.7,450.7C77.1,450.6 75.1,450.0 73.3,449.3C71.5,448.6 68.7,447.0 66.7,446.0C64.7,445.0 62.0,444.0 60.0,442.7C58.0,441.4 55.1,439.1 53.3,437.3C51.5,435.5 49.5,432.9 48.0,430.7C46.5,428.5 42.7,423.3 43.3,422.4Z" fill="#2d5c1e"/>
<path d="M33.3,456.3C34.6,455.8 40.8,455.7 44.0,455.7C47.2,455.7 52.1,455.9 54.7,456.0C57.3,456.1 59.7,456.2 61.3,456.7C62.9,457.2 64.2,459.1 65.3,459.3C66.4,459.5 67.7,457.9 68.7,458.0C69.7,458.1 71.1,459.8 72.0,460.0C72.9,460.2 73.7,458.8 74.7,459.3C75.7,459.8 77.6,462.5 78.7,463.3C79.8,464.1 81.2,463.4 82.0,464.7C82.8,466.0 83.9,470.7 84.0,472.0C84.1,473.3 83.5,472.5 82.7,473.3C81.9,474.1 80.1,476.8 78.7,477.3C77.3,477.8 75.1,476.5 73.3,476.7C71.5,476.9 68.7,478.7 66.7,478.7C64.7,478.7 62.0,477.4 60.0,476.7C58.0,476.0 55.3,475.1 53.3,474.0C51.3,472.9 48.7,470.8 46.7,469.3C44.7,467.8 41.7,465.5 40.0,464.0C38.3,462.5 36.3,460.5 35.3,459.3C34.3,458.1 32.0,456.8 33.3,456.3Z" fill="#2a581d"/>
<path d="M41.6,481.6C42.2,480.8 46.9,482.9 49.3,483.3C51.7,483.7 55.3,483.6 57.3,484.0C59.3,484.4 61.1,485.3 62.7,486.0C64.3,486.7 66.7,487.9 68.0,488.7C69.3,489.5 70.6,490.5 71.3,491.3C72.0,492.1 72.8,492.9 72.7,494.0C72.6,495.1 70.9,497.4 70.7,498.7C70.5,500.0 71.7,501.9 71.3,502.7C70.9,503.5 69.3,503.9 68.0,504.0C66.7,504.1 64.1,503.3 62.7,503.3C61.3,503.3 59.9,504.5 58.7,504.0C57.5,503.5 56.1,501.4 54.7,500.0C53.3,498.6 50.7,496.4 49.3,494.7C47.9,493.0 46.5,490.7 45.3,488.7C44.1,486.7 41.0,482.4 41.6,481.6Z" fill="#28541c"/>
<path d="M36,347.6 L58,348.5 L76,355.5 L96,367 L96,371 L60,359 Z" fill="#427a2a" opacity="0.6" filter="url(#b2)"/>
<path d="M31,390.6 L50,388.8 L72,392.5 L96,406 L80,404 L52,396 Z" fill="#3c7226" opacity="0.5" filter="url(#b2)"/>
<path d="M36.0,348.0 L98.0,377.0" stroke="#6f9a5c" stroke-width="0.8" opacity="0.75"/>
<path d="M30.0,391.0 L98.0,415.0" stroke="#6f9a5c" stroke-width="0.8" opacity="0.75"/>
<path d="M44.5,423.5 L86.0,446.0" stroke="#6f9a5c" stroke-width="0.8" opacity="0.75"/>
<path d="M34.5,457.0 L84.0,471.0" stroke="#6f9a5c" stroke-width="0.8" opacity="0.75"/>
<path d="M42.5,482.5 L71.0,500.0" stroke="#6f9a5c" stroke-width="0.8" opacity="0.75"/>
</g></g>
<g clip-path="url(#cD)">
<rect x="22.3" y="532.9" width="76.2" height="165.9" fill="#1b0939" filter="url(#bgn2)"/>
<clipPath id="cLD"><path d="M43.9,531.0 L41.5,539.0 L34.4,544.4 L28.4,550.3 L26.0,553.9 L26.6,565.9 L24.8,577.8 L26.0,586.2 L32.5,585.5 L35.5,600.0 L38.4,614.3 L43.4,615.7 L47.0,637.0 L54.8,629.9 L59.0,642.7 L74.6,666.8 L86.0,681.0 L96.2,695.6 L98.8,693.0 L98.8,659.7 L96.7,652.6 L94.5,631.3 L88.8,610.0 L87.0,600.0 L84.6,587.4 L82.2,577.8 L87.0,571.9 L85.2,564.7 L79.8,552.7 L72.6,545.5 L75.0,542.0 L74.4,531.0 Z"/></clipPath>
<g filter="url(#b1)">
<path d="M43.9,531.0 L41.5,539.0 L34.4,544.4 L28.4,550.3 L26.0,553.9 L26.6,565.9 L24.8,577.8 L26.0,586.2 L32.5,585.5 L35.5,600.0 L38.4,614.3 L43.4,615.7 L47.0,637.0 L54.8,629.9 L59.0,642.7 L74.6,666.8 L86.0,681.0 L96.2,695.6 L98.8,693.0 L98.8,659.7 L96.7,652.6 L94.5,631.3 L88.8,610.0 L87.0,600.0 L84.6,587.4 L82.2,577.8 L87.0,571.9 L85.2,564.7 L79.8,552.7 L72.6,545.5 L75.0,542.0 L74.4,531.0 Z" fill="url(#gLeafD)"/>
<path d="M93.8,531 L99,531 L99,593 L97.2,588 L95.6,570 L94.4,550 Z" fill="#56cc5c"/>
<g clip-path="url(#cLD)">
<rect x="-20" y="520" width="160" height="200" transform="rotate(-18 60 615)" fill="#86e888" opacity="0.5" filter="url(#streak)"/>
<path d="M45,539 L30,572 M45.5,540 L36,592 M46,541 L42,612 M47,541 L62,572 M47,540 L78,560 M52,556 L84,596 M58,575 L88,625 M55,566 L50,630" stroke="#a6eec0" stroke-width="1.6" fill="none" opacity="0.45" filter="url(#b2)"/>
<path d="M45.1,539 L51.1,555.7 L55.9,570.7 L61.9,589.8 L76,640 L95.5,693" stroke="#c8f0d4" stroke-width="1.0" fill="none" opacity="0.42" filter="url(#b1)"/>
<path d="M45.1,539 L48.5,548 L51.5,557" stroke="#f0d0ee" stroke-width="1.8" fill="none" opacity="0.9" filter="url(#b1)"/>
</g>
<path d="M96.9,625 L98.4,652" stroke="#f0d8f0" stroke-width="1.4" fill="none"/>
</g>
<text x="54.8" y="560.3" opacity="0.88" style="font-family:'Liberation Sans',sans-serif;font-size:6.3px;font-weight:normal;letter-spacing:0.55px;fill:#2f68a8">midrib</text>
<text x="28.9" y="595.7" opacity="1.00" style="font-family:'Liberation Sans',sans-serif;font-size:6.1px;font-weight:bold;letter-spacing:0.22px;fill:#f0b010">Interveinal tissue</text>
<text x="47.9" y="618.8" opacity="0.88" style="font-family:'Liberation Sans',sans-serif;font-size:6.3px;font-weight:normal;letter-spacing:0.35px;fill:#a8324e">veins</text>
<text x="44.8" y="666.5" opacity="0.88" style="font-family:'Liberation Sans',sans-serif;font-size:6.3px;font-weight:normal;letter-spacing:0.35px;fill:#c47a24">margin</text>
<text x="67.8" y="691.3" opacity="0.88" style="font-family:'Liberation Sans',sans-serif;font-size:6.3px;font-weight:normal;letter-spacing:0.35px;fill:#c61a1a">apex</text>
<circle cx="50.6" cy="554.4" r="1.25" fill="#2458a0"/>
<circle cx="69.2" cy="584.8" r="1.25" fill="#f0b418"/>
<circle cx="60.5" cy="606.9" r="1.25" fill="#c02860"/>
<circle cx="74.6" cy="665.1" r="1.25" fill="#d0501a"/>
<circle cx="95.5" cy="694.1" r="1.25" fill="#c8201a"/>
</g>
<g fill="#5fc391" fill-opacity="1.00"><circle cx="233.5" cy="26.3" r="1.45"/><circle cx="248.0" cy="26.3" r="1.45"/><circle cx="252.5" cy="18.2" r="1.45"/><circle cx="257.9" cy="23.9" r="1.45"/><circle cx="260.2" cy="53.1" r="1.45"/><circle cx="265.5" cy="55.2" r="1.45"/><circle cx="258.6" cy="58.4" r="1.45"/><circle cx="253.3" cy="61.6" r="1.45"/><circle cx="233.5" cy="82.0" r="1.45"/></g>
<g fill="#a5d250" fill-opacity="1.00"><circle cx="245.7" cy="60.3" r="1.45"/><circle cx="248.7" cy="83.9" r="1.45"/><circle cx="262.5" cy="77.7" r="1.45"/><circle cx="271.6" cy="76.4" r="1.45"/><circle cx="276.2" cy="82.0" r="1.45"/><circle cx="262.5" cy="105.6" r="1.45"/><circle cx="285.4" cy="117.9" r="1.45"/><circle cx="286.9" cy="118.3" r="1.45"/><circle cx="268.6" cy="134.9" r="1.45"/></g>
<g fill="#e17d7d" fill-opacity="1.00"><circle cx="386.1" cy="32.9" r="1.45"/><circle cx="363.2" cy="47.7" r="1.45"/><circle cx="377.0" cy="49.9" r="1.45"/><circle cx="393.0" cy="50.9" r="1.45"/><circle cx="370.1" cy="54.1" r="1.45"/><circle cx="409.8" cy="57.1" r="1.45"/><circle cx="375.5" cy="60.9" r="1.45"/><circle cx="357.9" cy="69.8" r="1.45"/><circle cx="365.5" cy="79.6" r="1.45"/></g>
<g fill="#ffe3e3" fill-opacity="1.00"><circle cx="357.9" cy="73.5" r="1.45"/><circle cx="372.4" cy="77.3" r="1.45"/><circle cx="347.2" cy="79.8" r="1.45"/><circle cx="356.4" cy="80.1" r="1.45"/><circle cx="315.9" cy="84.3" r="1.45"/><circle cx="335.8" cy="91.5" r="1.45"/><circle cx="321.3" cy="94.9" r="1.45"/><circle cx="337.3" cy="96.2" r="1.45"/><circle cx="337.3" cy="114.7" r="1.45"/></g>
<rect x="224.85" y="12.60" width="193.85" height="127.70" fill="none" stroke="#1a1a1a" stroke-width="0.60"/>
<path d="M248.72,140.30v1.80M279.26,140.30v1.80M309.80,140.30v1.80M340.34,140.30v1.80M370.88,140.30v1.80M401.42,140.30v1.80M224.85,127.37h-1.80M224.85,108.48h-1.80M224.85,89.59h-1.80M224.85,70.70h-1.80M224.85,51.81h-1.80M224.85,32.92h-1.80M224.85,14.03h-1.80" stroke="#222" stroke-width="0.60" fill="none"/>
<g font-size="5.20px"><text transform="translate(248.72 148.70) scale(1 1.100)" text-anchor="middle">−4</text><text transform="translate(279.26 148.70) scale(1 1.100)" text-anchor="middle">−2</text><text transform="translate(309.80 148.70) scale(1 1.100)" text-anchor="middle">0</text><text transform="translate(340.34 148.70) scale(1 1.100)" text-anchor="middle">2</text><text transform="translate(370.88 148.70) scale(1 1.100)" text-anchor="middle">4</text><text transform="translate(401.42 148.70) scale(1 1.100)" text-anchor="middle">6</text><text transform="translate(221.25 129.49) scale(1 1.100)" text-anchor="end">−3</text><text transform="translate(221.25 110.60) scale(1 1.100)" text-anchor="end">−2</text><text transform="translate(221.25 91.71) scale(1 1.100)" text-anchor="end">−1</text><text transform="translate(221.25 72.82) scale(1 1.100)" text-anchor="end">0</text><text transform="translate(221.25 53.93) scale(1 1.100)" text-anchor="end">1</text><text transform="translate(221.25 35.04) scale(1 1.100)" text-anchor="end">2</text><text transform="translate(221.25 16.15) scale(1 1.100)" text-anchor="end">3</text><text transform="translate(321.77 156.70) scale(1 1.100)" text-anchor="middle">LD1 (0.85)</text><text transform="translate(210.60 76.45) scale(1 1.100) rotate(-90)" text-anchor="middle">LD2 (0.09)</text></g>
<g font-size="6.25px"><text transform="translate(321.77 8.90) scale(1 1.100)" text-anchor="middle">LDA of VISNIR Data from Two Scans</text></g>
<rect x="357.40" y="101.60" width="59.30" height="35.90" rx="1.2" fill="#fff" fill-opacity="0.8" stroke="#cccccc" stroke-width="0.5"/>
<g font-size="5.20px"><circle cx="364.90" cy="106.40" r="1.89" fill="#5fc391" fill-opacity="1.00"/><text transform="translate(374.20 108.52) scale(1 1.100)" text-anchor="start">healthy scan1</text><circle cx="364.90" cy="114.90" r="1.89" fill="#a5d250" fill-opacity="1.00"/><text transform="translate(374.20 117.02) scale(1 1.100)" text-anchor="start">healthy scan2</text><circle cx="364.90" cy="123.40" r="1.89" fill="#e17d7d" fill-opacity="1.00"/><text transform="translate(374.20 125.52) scale(1 1.100)" text-anchor="start">diseased scan1</text><circle cx="364.90" cy="131.90" r="1.89" fill="#ffe3e3" fill-opacity="1.00"/><text transform="translate(374.20 134.02) scale(1 1.100)" text-anchor="start">diseased scan2</text></g>
<g fill="#5fc391" fill-opacity="1.00"><circle cx="468.1" cy="70.4" r="1.50"/><circle cx="472.2" cy="72.9" r="1.50"/><circle cx="476.3" cy="77.3" r="1.50"/><circle cx="478.6" cy="61.7" r="1.50"/><circle cx="481.5" cy="79.8" r="1.50"/><circle cx="490.8" cy="79.8" r="1.50"/><circle cx="492.0" cy="63.5" r="1.50"/><circle cx="495.5" cy="67.9" r="1.50"/><circle cx="493.2" cy="92.3" r="1.50"/></g>
<g fill="#a5d250" fill-opacity="1.00"><circle cx="552.7" cy="127.9" r="1.50"/><circle cx="556.8" cy="116.7" r="1.50"/><circle cx="563.2" cy="133.6" r="1.50"/><circle cx="563.8" cy="122.9" r="1.50"/><circle cx="565.5" cy="113.5" r="1.50"/><circle cx="569.0" cy="122.9" r="1.50"/><circle cx="569.6" cy="116.0" r="1.50"/><circle cx="573.7" cy="110.4" r="1.50"/><circle cx="591.2" cy="116.7" r="1.50"/></g>
<g fill="#e17d7d" fill-opacity="1.00"><circle cx="570.2" cy="31.7" r="1.50"/><circle cx="572.0" cy="25.4" r="1.50"/><circle cx="574.3" cy="21.7" r="1.50"/><circle cx="579.0" cy="28.5" r="1.50"/><circle cx="580.7" cy="29.2" r="1.50"/><circle cx="589.5" cy="27.9" r="1.50"/><circle cx="590.0" cy="29.8" r="1.50"/><circle cx="599.4" cy="18.5" r="1.50"/><circle cx="612.8" cy="49.8" r="1.50"/></g>
<g fill="#ffe3e3" fill-opacity="1.00"><circle cx="617.5" cy="49.8" r="1.50"/><circle cx="650.7" cy="69.2" r="1.50"/><circle cx="629.1" cy="81.7" r="1.50"/><circle cx="643.7" cy="83.5" r="1.50"/><circle cx="627.4" cy="89.2" r="1.50"/><circle cx="633.8" cy="92.3" r="1.50"/><circle cx="624.5" cy="101.0" r="1.50"/><circle cx="617.5" cy="122.3" r="1.50"/></g>
<rect x="459.50" y="12.40" width="201.30" height="126.80" fill="none" stroke="#1a1a1a" stroke-width="0.60"/>
<path d="M473.34,139.20v1.80M496.68,139.20v1.80M520.02,139.20v1.80M543.36,139.20v1.80M566.70,139.20v1.80M590.04,139.20v1.80M613.38,139.20v1.80M636.72,139.20v1.80M459.50,127.30h-1.80M459.50,102.30h-1.80M459.50,77.30h-1.80M459.50,52.30h-1.80M459.50,27.30h-1.80" stroke="#222" stroke-width="0.60" fill="none"/>
<g font-size="5.36px"><text transform="translate(473.34 147.60) scale(1 1.100)" text-anchor="middle">−8</text><text transform="translate(496.68 147.60) scale(1 1.100)" text-anchor="middle">−6</text><text transform="translate(520.02 147.60) scale(1 1.100)" text-anchor="middle">−4</text><text transform="translate(543.36 147.60) scale(1 1.100)" text-anchor="middle">−2</text><text transform="translate(566.70 147.60) scale(1 1.100)" text-anchor="middle">0</text><text transform="translate(590.04 147.60) scale(1 1.100)" text-anchor="middle">2</text><text transform="translate(613.38 147.60) scale(1 1.100)" text-anchor="middle">4</text><text transform="translate(636.72 147.60) scale(1 1.100)" text-anchor="middle">6</text><text transform="translate(455.30 129.48) scale(1 1.100)" text-anchor="end">−4</text><text transform="translate(455.30 104.48) scale(1 1.100)" text-anchor="end">−2</text><text transform="translate(455.30 79.48) scale(1 1.100)" text-anchor="end">0</text><text transform="translate(455.30 54.48) scale(1 1.100)" text-anchor="end">2</text><text transform="translate(455.30 29.48) scale(1 1.100)" text-anchor="end">4</text><text transform="translate(560.15 155.60) scale(1 1.100)" text-anchor="middle">LD1 (0.68)</text><text transform="translate(445.00 75.80) scale(1 1.100) rotate(-90)" text-anchor="middle">LD2 (0.22)</text></g>
<g font-size="6.42px"><text transform="translate(560.15 8.70) scale(1 1.100)" text-anchor="middle">LDA of SWIR Data from Two Scans</text></g>
<rect x="461.70" y="15.00" width="60.70" height="35.60" rx="1.2" fill="#fff" fill-opacity="0.8" stroke="#cccccc" stroke-width="0.5"/>
<g font-size="5.36px"><circle cx="469.30" cy="19.80" r="1.95" fill="#5fc391" fill-opacity="1.00"/><text transform="translate(478.90 21.98) scale(1 1.100)" text-anchor="start">healthy scan1</text><circle cx="469.30" cy="28.30" r="1.95" fill="#a5d250" fill-opacity="1.00"/><text transform="translate(478.90 30.48) scale(1 1.100)" text-anchor="start">healthy scan2</text><circle cx="469.30" cy="36.80" r="1.95" fill="#e17d7d" fill-opacity="1.00"/><text transform="translate(478.90 38.98) scale(1 1.100)" text-anchor="start">diseased scan1</text><circle cx="469.30" cy="45.30" r="1.95" fill="#ffe3e3" fill-opacity="1.00"/><text transform="translate(478.90 47.48) scale(1 1.100)" text-anchor="start">diseased scan2</text></g>
<g fill="#ffd92f" fill-opacity="1.00"><circle cx="234.4" cy="241.0" r="1.60"/></g>
<g fill="#222222" fill-opacity="1.00"><circle cx="410.9" cy="307.9" r="1.60"/></g>
<g fill="#8fc796" fill-opacity="0.80"><circle cx="388.5" cy="197.5" r="1.40"/><circle cx="388.9" cy="198.7" r="1.40"/><circle cx="388.2" cy="199.6" r="1.40"/><circle cx="388.8" cy="200.4" r="1.40"/><circle cx="388.7" cy="196.6" r="1.40"/><circle cx="389.0" cy="199.4" r="1.40"/><circle cx="388.3" cy="201.3" r="1.40"/></g>
<g fill="#fbb9c8" fill-opacity="0.85"><circle cx="386.6" cy="203.0" r="1.40"/><circle cx="385.7" cy="204.3" r="1.40"/><circle cx="387.4" cy="202.2" r="1.40"/><circle cx="387.9" cy="201.3" r="1.40"/><circle cx="386.3" cy="203.9" r="1.40"/></g>
<g fill="#5a55a3" fill-opacity="0.90"><circle cx="395.7" cy="218.4" r="1.40"/><circle cx="396.0" cy="216.7" r="1.40"/><circle cx="395.4" cy="219.6" r="1.40"/><circle cx="396.1" cy="217.5" r="1.40"/></g>
<g fill="#fdd2ac" fill-opacity="0.90"><circle cx="394.5" cy="215.4" r="1.40"/><circle cx="394.0" cy="216.7" r="1.40"/><circle cx="394.9" cy="214.9" r="1.40"/></g>
<rect x="226.00" y="191.30" width="194.30" height="122.00" fill="none" stroke="#1a1a1a" stroke-width="0.60"/>
<path d="M229.97,313.30v1.80M257.64,313.30v1.80M285.31,313.30v1.80M312.97,313.30v1.80M340.63,313.30v1.80M368.30,313.30v1.80M395.97,313.30v1.80M226.00,298.54h-1.80M226.00,281.48h-1.80M226.00,264.42h-1.80M226.00,247.36h-1.80M226.00,230.30h-1.80M226.00,213.24h-1.80M226.00,196.18h-1.80" stroke="#222" stroke-width="0.60" fill="none"/>
<g font-size="5.20px"><text transform="translate(229.97 321.70) scale(1 1.100)" text-anchor="middle">−250</text><text transform="translate(257.64 321.70) scale(1 1.100)" text-anchor="middle">−200</text><text transform="translate(285.31 321.70) scale(1 1.100)" text-anchor="middle">−150</text><text transform="translate(312.97 321.70) scale(1 1.100)" text-anchor="middle">−100</text><text transform="translate(340.63 321.70) scale(1 1.100)" text-anchor="middle">−50</text><text transform="translate(368.30 321.70) scale(1 1.100)" text-anchor="middle">0</text><text transform="translate(395.97 321.70) scale(1 1.100)" text-anchor="middle">50</text><text transform="translate(222.30 300.66) scale(1 1.100)" text-anchor="end">−80</text><text transform="translate(222.30 283.60) scale(1 1.100)" text-anchor="end">−60</text><text transform="translate(222.30 266.54) scale(1 1.100)" text-anchor="end">−40</text><text transform="translate(222.30 249.48) scale(1 1.100)" text-anchor="end">−20</text><text transform="translate(222.30 232.42) scale(1 1.100)" text-anchor="end">0</text><text transform="translate(222.30 215.36) scale(1 1.100)" text-anchor="end">20</text><text transform="translate(222.30 198.30) scale(1 1.100)" text-anchor="end">40</text><text transform="translate(323.15 329.70) scale(1 1.100)" text-anchor="middle">LD1 (0.85)</text><text transform="translate(208.20 252.30) scale(1 1.100) rotate(-90)" text-anchor="middle">LD2 (0.13)</text></g>
<g font-size="6.30px"><text transform="translate(323.15 187.60) scale(1 1.100)" text-anchor="middle">LDA of VISNIR Data with Different Background Materials</text></g>
<rect x="228.20" y="260.20" width="83.30" height="50.40" rx="1.2" fill="#fff" fill-opacity="0.8" stroke="#cccccc" stroke-width="0.5"/>
<g font-size="5.20px"><circle cx="235.80" cy="264.70" r="1.82" fill="#ffd92f" fill-opacity="1.00"/><text transform="translate(245.70 266.82) scale(1 1.100)" text-anchor="start">white panel background</text><circle cx="235.80" cy="272.75" r="1.82" fill="#222222" fill-opacity="1.00"/><text transform="translate(245.70 274.87) scale(1 1.100)" text-anchor="start">black fabric background</text><circle cx="235.80" cy="280.80" r="1.82" fill="#8fc796" fill-opacity="0.80"/><text transform="translate(245.70 282.92) scale(1 1.100)" text-anchor="start">healthy white panel</text><circle cx="235.80" cy="288.85" r="1.82" fill="#fbb9c8" fill-opacity="0.85"/><text transform="translate(245.70 290.97) scale(1 1.100)" text-anchor="start">diseased white panel</text><circle cx="235.80" cy="296.90" r="1.82" fill="#5a55a3" fill-opacity="0.90"/><text transform="translate(245.70 299.02) scale(1 1.100)" text-anchor="start">healthy black fabric</text><circle cx="235.80" cy="304.95" r="1.82" fill="#fdd2ac" fill-opacity="0.90"/><text transform="translate(245.70 307.07) scale(1 1.100)" text-anchor="start">diseased black fabric</text></g>
<g fill="#fff01e" fill-opacity="1.00"><circle cx="469.3" cy="196.7" r="1.65"/></g>
<g fill="#222222" fill-opacity="1.00"><circle cx="550.2" cy="307.7" r="1.65"/></g>
<g fill="#8fc796" fill-opacity="0.85"><circle cx="623.8" cy="225.4" r="1.45"/><circle cx="623.8" cy="228.7" r="1.45"/><circle cx="627.8" cy="227.9" r="1.45"/><circle cx="631.0" cy="225.2" r="1.45"/><circle cx="626.0" cy="226.6" r="1.45"/><circle cx="629.1" cy="228.5" r="1.45"/></g>
<g fill="#fbb9c8" fill-opacity="0.85"><circle cx="649.1" cy="226.5" r="1.45"/><circle cx="650.6" cy="225.9" r="1.45"/><circle cx="651.9" cy="226.4" r="1.45"/><circle cx="653.1" cy="225.4" r="1.45"/><circle cx="654.2" cy="226.4" r="1.45"/><circle cx="655.4" cy="226.1" r="1.45"/><circle cx="651.9" cy="227.1" r="1.45"/><circle cx="651.0" cy="225.2" r="1.45"/></g>
<g fill="#5a55a3" fill-opacity="0.75"><circle cx="630.4" cy="223.9" r="1.30"/><circle cx="635.6" cy="226.1" r="1.30"/><circle cx="631.4" cy="229.6" r="1.30"/><circle cx="625.1" cy="224.3" r="1.30"/><circle cx="629.7" cy="226.4" r="1.30"/></g>
<g fill="#fdd2ac" fill-opacity="0.60"><circle cx="648.5" cy="227.0" r="1.45"/><circle cx="649.7" cy="227.3" r="1.45"/></g>
<rect x="460.30" y="191.10" width="204.40" height="122.20" fill="none" stroke="#1a1a1a" stroke-width="0.60"/>
<path d="M482.40,313.30v1.80M520.50,313.30v1.80M558.60,313.30v1.80M596.70,313.30v1.80M634.80,313.30v1.80M460.30,304.90h-1.80M460.30,281.60h-1.80M460.30,258.30h-1.80M460.30,235.00h-1.80M460.30,211.70h-1.80" stroke="#222" stroke-width="0.60" fill="none"/>
<g font-size="5.48px"><text transform="translate(482.40 321.70) scale(1 1.100)" text-anchor="middle">−60</text><text transform="translate(520.50 321.70) scale(1 1.100)" text-anchor="middle">−40</text><text transform="translate(558.60 321.70) scale(1 1.100)" text-anchor="middle">−20</text><text transform="translate(596.70 321.70) scale(1 1.100)" text-anchor="middle">0</text><text transform="translate(634.80 321.70) scale(1 1.100)" text-anchor="middle">20</text><text transform="translate(456.50 307.13) scale(1 1.100)" text-anchor="end">−60</text><text transform="translate(456.50 283.83) scale(1 1.100)" text-anchor="end">−40</text><text transform="translate(456.50 260.53) scale(1 1.100)" text-anchor="end">−20</text><text transform="translate(456.50 237.23) scale(1 1.100)" text-anchor="end">0</text><text transform="translate(456.50 213.93) scale(1 1.100)" text-anchor="end">20</text><text transform="translate(562.50 329.70) scale(1 1.100)" text-anchor="middle">LD1 (0.57)</text><text transform="translate(441.60 252.20) scale(1 1.100) rotate(-90)" text-anchor="middle">LD2 (0.41)</text></g>
<g font-size="6.64px"><text transform="translate(562.50 187.40) scale(1 1.100)" text-anchor="middle">LDA of SWIR Data with Different Background Materials</text></g>
<rect x="462.70" y="259.90" width="87.00" height="51.10" rx="1.2" fill="#fff" fill-opacity="0.8" stroke="#cccccc" stroke-width="0.5"/>
<g font-size="5.48px"><circle cx="470.75" cy="264.70" r="1.89" fill="#fff01e" fill-opacity="1.00"/><text transform="translate(481.00 266.93) scale(1 1.100)" text-anchor="start">white panel background</text><circle cx="470.75" cy="272.90" r="1.89" fill="#222222" fill-opacity="1.00"/><text transform="translate(481.00 275.13) scale(1 1.100)" text-anchor="start">black fabric background</text><circle cx="470.75" cy="281.10" r="1.89" fill="#8fc796" fill-opacity="0.85"/><text transform="translate(481.00 283.33) scale(1 1.100)" text-anchor="start">healthy white panel</text><circle cx="470.75" cy="289.30" r="1.89" fill="#fbb9c8" fill-opacity="0.85"/><text transform="translate(481.00 291.53) scale(1 1.100)" text-anchor="start">diseased white panel</text><circle cx="470.75" cy="297.50" r="1.89" fill="#5a55a3" fill-opacity="0.75"/><text transform="translate(481.00 299.73) scale(1 1.100)" text-anchor="start">healthy black fabric</text><circle cx="470.75" cy="305.70" r="1.89" fill="#fdd2ac" fill-opacity="0.60"/><text transform="translate(481.00 307.93) scale(1 1.100)" text-anchor="start">diseased black fabric</text></g>
<g fill="#a83fd8" fill-opacity="1.00"><circle cx="147.3" cy="364.3" r="1.80"/><circle cx="139.4" cy="388.5" r="1.80"/><circle cx="141.1" cy="386.4" r="1.80"/><circle cx="144.2" cy="384.3" r="1.80"/><circle cx="144.2" cy="387.7" r="1.80"/><circle cx="145.2" cy="388.5" r="1.80"/><circle cx="146.7" cy="389.7" r="1.80"/><circle cx="141.1" cy="408.9" r="1.80"/><circle cx="146.7" cy="442.1" r="1.80"/></g>
<g fill="#fff01e" fill-opacity="1.00"><circle cx="148.8" cy="429.5" r="1.80"/><circle cx="143.8" cy="436.2" r="1.80"/><circle cx="143.6" cy="450.4" r="1.80"/><circle cx="145.7" cy="450.4" r="1.80"/><circle cx="147.7" cy="450.4" r="1.80"/><circle cx="149.4" cy="460.0" r="1.80"/><circle cx="147.1" cy="464.7" r="1.80"/><circle cx="144.6" cy="468.8" r="1.80"/><circle cx="146.3" cy="495.1" r="1.80"/></g>
<g fill="#e2e2e2" fill-opacity="1.00"><circle cx="360.5" cy="424.5" r="1.80"/></g>
<rect x="127.20" y="357.40" width="245.40" height="144.10" fill="none" stroke="#1a1a1a" stroke-width="0.60"/>
<path d="M133.80,501.50v2.00M175.40,501.50v2.00M217.00,501.50v2.00M258.60,501.50v2.00M300.20,501.50v2.00M341.80,501.50v2.00M127.20,491.42h-2.00M127.20,474.69h-2.00M127.20,457.96h-2.00M127.20,441.23h-2.00M127.20,424.50h-2.00M127.20,407.77h-2.00M127.20,391.04h-2.00M127.20,374.31h-2.00M127.20,357.58h-2.00" stroke="#222" stroke-width="0.60" fill="none"/>
<g font-size="6.50px"><text x="133.80" y="511.20" text-anchor="middle">−40</text><text x="175.40" y="511.20" text-anchor="middle">−20</text><text x="217.00" y="511.20" text-anchor="middle">0</text><text x="258.60" y="511.20" text-anchor="middle">20</text><text x="300.20" y="511.20" text-anchor="middle">40</text><text x="341.80" y="511.20" text-anchor="middle">60</text><text x="123.10" y="493.82" text-anchor="end">−4</text><text x="123.10" y="477.09" text-anchor="end">−3</text><text x="123.10" y="460.36" text-anchor="end">−2</text><text x="123.10" y="443.63" text-anchor="end">−1</text><text x="123.10" y="426.90" text-anchor="end">0</text><text x="123.10" y="410.17" text-anchor="end">1</text><text x="123.10" y="393.44" text-anchor="end">2</text><text x="123.10" y="376.71" text-anchor="end">3</text><text x="123.10" y="359.98" text-anchor="end">4</text><text x="249.90" y="520.00" text-anchor="middle">LD1 (1.00)</text><text transform="translate(109.60 429.45) rotate(-90)" text-anchor="middle">LD2 (0.00)</text></g>
<g font-size="7.83px"><text x="249.90" y="353.70" text-anchor="middle">LDA of VISNIR Data with Two Different Leaf Sizes</text></g>
<rect x="304.60" y="360.10" width="64.10" height="31.40" rx="1.2" fill="#fff" fill-opacity="0.8" stroke="#cccccc" stroke-width="0.5"/>
<g font-size="6.50px"><circle cx="313.90" cy="366.00" r="2.10" fill="#a83fd8" fill-opacity="1.00"/><text x="326.00" y="368.40" text-anchor="start">big leaves</text><circle cx="313.90" cy="375.40" r="2.10" fill="#fff01e" fill-opacity="1.00"/><text x="326.00" y="377.80" text-anchor="start">small leaves</text><circle cx="313.90" cy="384.80" r="2.10" fill="#e2e2e2" fill-opacity="1.00"/><text x="326.00" y="387.20" text-anchor="start">background</text></g>
<g fill="#a83fd8" fill-opacity="1.00"><circle cx="429.3" cy="364.1" r="1.85"/><circle cx="425.3" cy="370.9" r="1.85"/><circle cx="421.8" cy="378.4" r="1.85"/><circle cx="426.1" cy="379.7" r="1.85"/><circle cx="425.3" cy="383.4" r="1.85"/><circle cx="425.9" cy="385.9" r="1.85"/><circle cx="422.1" cy="387.8" r="1.85"/><circle cx="416.7" cy="388.2" r="1.85"/><circle cx="430.7" cy="410.9" r="1.85"/></g>
<g fill="#fff01e" fill-opacity="1.00"><circle cx="434.2" cy="437.1" r="1.85"/><circle cx="438.7" cy="448.3" r="1.85"/><circle cx="437.9" cy="451.4" r="1.85"/><circle cx="433.1" cy="457.7" r="1.85"/><circle cx="437.9" cy="463.3" r="1.85"/><circle cx="433.4" cy="469.5" r="1.85"/><circle cx="434.7" cy="471.4" r="1.85"/><circle cx="436.8" cy="471.4" r="1.85"/><circle cx="435.5" cy="496.4" r="1.85"/></g>
<g fill="#e2e2e2" fill-opacity="1.00"><circle cx="645.1" cy="420.2" r="1.85"/></g>
<rect x="404.80" y="357.40" width="252.70" height="145.60" fill="none" stroke="#1a1a1a" stroke-width="0.60"/>
<path d="M448.10,503.00v2.10M501.70,503.00v2.10M555.30,503.00v2.10M608.90,503.00v2.10M404.80,496.98h-2.10M404.80,472.02h-2.10M404.80,447.06h-2.10M404.80,422.10h-2.10M404.80,397.14h-2.10M404.80,372.18h-2.10" stroke="#222" stroke-width="0.60" fill="none"/>
<g font-size="6.68px"><text x="448.10" y="512.90" text-anchor="middle">−20</text><text x="501.70" y="512.90" text-anchor="middle">0</text><text x="555.30" y="512.90" text-anchor="middle">20</text><text x="608.90" y="512.90" text-anchor="middle">40</text><text x="399.80" y="499.45" text-anchor="end">−6</text><text x="399.80" y="474.49" text-anchor="end">−4</text><text x="399.80" y="449.53" text-anchor="end">−2</text><text x="399.80" y="424.57" text-anchor="end">0</text><text x="399.80" y="399.61" text-anchor="end">2</text><text x="399.80" y="374.65" text-anchor="end">4</text><text x="531.15" y="521.90" text-anchor="middle">LD1 (1.00)</text><text transform="translate(386.10 430.20) rotate(-90)" text-anchor="middle">LD2 (0.00)</text></g>
<g font-size="8.07px"><text x="531.15" y="353.70" text-anchor="middle">LDA of SWIR Data with Two Different Leaf Sizes</text></g>
<rect x="587.20" y="360.10" width="66.70" height="31.60" rx="1.2" fill="#fff" fill-opacity="0.8" stroke="#cccccc" stroke-width="0.5"/>
<g font-size="6.68px"><circle cx="596.90" cy="366.40" r="2.15" fill="#a83fd8" fill-opacity="1.00"/><text x="609.60" y="368.87" text-anchor="start">big leaves</text><circle cx="596.90" cy="376.00" r="2.15" fill="#fff01e" fill-opacity="1.00"/><text x="609.60" y="378.47" text-anchor="start">small leaves</text><circle cx="596.90" cy="385.60" r="2.15" fill="#e2e2e2" fill-opacity="1.00"/><text x="609.60" y="388.07" text-anchor="start">background</text></g>
<g fill="#1c1c1c" fill-opacity="0.78"><circle cx="150.3" cy="566.6" r="1.88"/><circle cx="151.9" cy="566.6" r="1.88"/><circle cx="146.1" cy="569.6" r="1.88"/><circle cx="138.5" cy="573.6" r="1.88"/><circle cx="138.9" cy="575.2" r="1.88"/><circle cx="142.5" cy="575.2" r="1.88"/><circle cx="146.9" cy="575.0" r="1.88"/><circle cx="149.5" cy="575.2" r="1.88"/><circle cx="155.3" cy="575.2" r="1.88"/><circle cx="157.0" cy="576.1" r="1.88"/><circle cx="140.5" cy="579.0" r="1.88"/><circle cx="150.6" cy="579.0" r="1.88"/><circle cx="140.9" cy="581.0" r="1.88"/><circle cx="144.5" cy="581.7" r="1.88"/><circle cx="146.5" cy="582.4" r="1.88"/><circle cx="149.2" cy="582.8" r="1.88"/><circle cx="154.3" cy="582.1" r="1.88"/><circle cx="157.7" cy="583.3" r="1.88"/><circle cx="140.5" cy="584.1" r="1.88"/><circle cx="142.5" cy="583.3" r="1.88"/><circle cx="145.2" cy="583.7" r="1.88"/><circle cx="149.5" cy="584.4" r="1.88"/><circle cx="146.5" cy="586.4" r="1.88"/><circle cx="148.9" cy="585.7" r="1.88"/><circle cx="151.2" cy="587.4" r="1.88"/><circle cx="144.5" cy="589.8" r="1.88"/><circle cx="143.2" cy="590.9" r="1.88"/><circle cx="142.2" cy="591.8" r="1.88"/><circle cx="156.3" cy="590.0" r="1.88"/><circle cx="159.7" cy="590.5" r="1.88"/><circle cx="157.3" cy="591.1" r="1.88"/><circle cx="145.4" cy="593.5" r="1.88"/><circle cx="148.5" cy="592.9" r="1.88"/><circle cx="156.6" cy="594.9" r="1.88"/><circle cx="155.7" cy="597.6" r="1.88"/><circle cx="148.5" cy="599.9" r="1.88"/><circle cx="149.5" cy="601.9" r="1.88"/><circle cx="154.6" cy="602.7" r="1.88"/><circle cx="149.6" cy="609.2" r="1.88"/><circle cx="148.1" cy="583.3" r="1.88"/><circle cx="149.9" cy="583.7" r="1.88"/><circle cx="145.2" cy="582.8" r="1.88"/><circle cx="143.8" cy="590.0" r="1.88"/><circle cx="147.2" cy="585.1" r="1.88"/><circle cx="141.4" cy="582.8" r="1.88"/><circle cx="148.9" cy="582.0" r="1.88"/><circle cx="150.3" cy="586.4" r="1.88"/><circle cx="147.9" cy="580.4" r="1.88"/><circle cx="149.2" cy="600.8" r="1.88"/><circle cx="156.2" cy="575.7" r="1.88"/></g>
<g fill="#a9d3e6" fill-opacity="0.80"><circle cx="246.3" cy="644.9" r="1.88"/><circle cx="238.1" cy="648.0" r="1.88"/><circle cx="240.6" cy="648.3" r="1.88"/><circle cx="245.5" cy="648.5" r="1.88"/><circle cx="239.2" cy="651.2" r="1.88"/><circle cx="250.7" cy="651.8" r="1.88"/><circle cx="228.2" cy="654.2" r="1.88"/><circle cx="239.9" cy="653.6" r="1.88"/><circle cx="241.6" cy="654.7" r="1.88"/><circle cx="246.2" cy="655.7" r="1.88"/><circle cx="238.9" cy="657.7" r="1.88"/><circle cx="248.4" cy="658.7" r="1.88"/><circle cx="252.4" cy="657.4" r="1.88"/><circle cx="257.0" cy="657.9" r="1.88"/><circle cx="255.4" cy="659.4" r="1.88"/><circle cx="243.0" cy="660.0" r="1.88"/><circle cx="258.1" cy="661.7" r="1.88"/><circle cx="232.5" cy="662.2" r="1.88"/><circle cx="239.9" cy="663.1" r="1.88"/><circle cx="241.9" cy="662.8" r="1.88"/><circle cx="241.2" cy="665.1" r="1.88"/><circle cx="243.5" cy="665.7" r="1.88"/><circle cx="245.9" cy="666.4" r="1.88"/><circle cx="236.5" cy="667.8" r="1.88"/><circle cx="243.0" cy="668.4" r="1.88"/><circle cx="230.1" cy="669.2" r="1.88"/><circle cx="249.3" cy="669.8" r="1.88"/><circle cx="251.6" cy="673.5" r="1.88"/><circle cx="238.9" cy="676.8" r="1.88"/><circle cx="253.7" cy="680.8" r="1.88"/><circle cx="239.2" cy="655.7" r="1.88"/><circle cx="247.3" cy="655.2" r="1.88"/><circle cx="240.8" cy="663.7" r="1.88"/><circle cx="242.6" cy="666.4" r="1.88"/><circle cx="243.9" cy="667.1" r="1.88"/><circle cx="241.9" cy="661.0" r="1.88"/><circle cx="240.3" cy="648.9" r="1.88"/><circle cx="238.9" cy="652.3" r="1.88"/><circle cx="256.0" cy="658.7" r="1.88"/><circle cx="244.9" cy="665.5" r="1.88"/><circle cx="236.8" cy="667.4" r="1.88"/><circle cx="243.3" cy="667.4" r="1.88"/><circle cx="241.2" cy="663.3" r="1.88"/><circle cx="247.0" cy="666.0" r="1.88"/></g>
<g fill="#8cc48f" fill-opacity="0.80"><circle cx="339.1" cy="626.1" r="1.88"/><circle cx="342.5" cy="630.8" r="1.88"/><circle cx="344.9" cy="633.2" r="1.88"/><circle cx="343.1" cy="634.8" r="1.88"/><circle cx="349.2" cy="633.5" r="1.88"/><circle cx="348.5" cy="635.9" r="1.88"/><circle cx="354.3" cy="638.6" r="1.88"/><circle cx="341.1" cy="640.4" r="1.88"/><circle cx="346.5" cy="640.9" r="1.88"/><circle cx="351.6" cy="641.3" r="1.88"/><circle cx="336.4" cy="644.2" r="1.88"/><circle cx="344.5" cy="643.9" r="1.88"/><circle cx="348.1" cy="644.5" r="1.88"/><circle cx="356.6" cy="646.2" r="1.88"/><circle cx="359.7" cy="647.6" r="1.88"/><circle cx="340.0" cy="647.6" r="1.88"/><circle cx="342.5" cy="646.9" r="1.88"/><circle cx="345.8" cy="646.9" r="1.88"/><circle cx="350.3" cy="648.5" r="1.88"/><circle cx="353.2" cy="649.9" r="1.88"/><circle cx="347.6" cy="650.3" r="1.88"/><circle cx="351.2" cy="651.6" r="1.88"/><circle cx="337.4" cy="652.3" r="1.88"/><circle cx="344.5" cy="652.0" r="1.88"/><circle cx="346.5" cy="653.0" r="1.88"/><circle cx="339.1" cy="654.7" r="1.88"/><circle cx="348.1" cy="656.1" r="1.88"/><circle cx="344.5" cy="656.6" r="1.88"/><circle cx="330.4" cy="659.4" r="1.88"/><circle cx="343.5" cy="659.7" r="1.88"/><circle cx="343.8" cy="658.3" r="1.88"/><circle cx="343.8" cy="634.1" r="1.88"/><circle cx="349.5" cy="634.8" r="1.88"/><circle cx="345.2" cy="645.6" r="1.88"/><circle cx="347.2" cy="651.6" r="1.88"/><circle cx="348.9" cy="648.9" r="1.88"/><circle cx="345.8" cy="648.9" r="1.88"/><circle cx="343.5" cy="635.1" r="1.88"/><circle cx="349.9" cy="636.1" r="1.88"/><circle cx="341.8" cy="640.9" r="1.88"/><circle cx="344.9" cy="647.6" r="1.88"/><circle cx="347.9" cy="652.3" r="1.88"/><circle cx="350.5" cy="649.3" r="1.88"/><circle cx="343.1" cy="633.2" r="1.88"/></g>
<g fill="#fbb6c4" fill-opacity="0.80"><circle cx="300.0" cy="634.8" r="1.88"/><circle cx="288.6" cy="642.6" r="1.88"/><circle cx="287.6" cy="647.6" r="1.88"/><circle cx="292.0" cy="648.5" r="1.88"/><circle cx="279.6" cy="652.0" r="1.88"/><circle cx="288.3" cy="651.6" r="1.88"/><circle cx="295.7" cy="651.6" r="1.88"/><circle cx="299.1" cy="654.7" r="1.88"/><circle cx="286.3" cy="655.7" r="1.88"/><circle cx="288.7" cy="655.2" r="1.88"/><circle cx="293.7" cy="656.6" r="1.88"/><circle cx="283.3" cy="659.3" r="1.88"/><circle cx="286.3" cy="659.0" r="1.88"/><circle cx="290.3" cy="660.1" r="1.88"/><circle cx="297.1" cy="660.4" r="1.88"/><circle cx="288.3" cy="661.7" r="1.88"/><circle cx="285.0" cy="662.8" r="1.88"/><circle cx="302.4" cy="663.3" r="1.88"/><circle cx="294.4" cy="663.7" r="1.88"/><circle cx="297.1" cy="663.1" r="1.88"/><circle cx="282.3" cy="665.1" r="1.88"/><circle cx="286.3" cy="664.7" r="1.88"/><circle cx="301.1" cy="666.4" r="1.88"/><circle cx="298.4" cy="667.4" r="1.88"/><circle cx="279.6" cy="668.2" r="1.88"/><circle cx="285.0" cy="669.5" r="1.88"/><circle cx="289.0" cy="670.0" r="1.88"/><circle cx="283.6" cy="671.8" r="1.88"/><circle cx="282.3" cy="675.4" r="1.88"/><circle cx="289.4" cy="675.4" r="1.88"/><circle cx="295.0" cy="665.1" r="1.88"/><circle cx="291.7" cy="661.0" r="1.88"/><circle cx="287.0" cy="663.3" r="1.88"/><circle cx="295.7" cy="664.1" r="1.88"/><circle cx="297.7" cy="661.7" r="1.88"/><circle cx="287.6" cy="657.0" r="1.88"/><circle cx="285.6" cy="661.0" r="1.88"/><circle cx="296.4" cy="662.8" r="1.88"/><circle cx="294.1" cy="662.8" r="1.88"/><circle cx="284.3" cy="664.4" r="1.88"/><circle cx="299.1" cy="654.7" r="1.88"/><circle cx="302.1" cy="663.3" r="1.88"/><circle cx="300.1" cy="667.1" r="1.88"/><circle cx="298.1" cy="667.8" r="1.88"/><circle cx="298.1" cy="661.0" r="1.88"/><circle cx="296.1" cy="663.1" r="1.88"/><circle cx="295.7" cy="651.6" r="1.88"/></g>
<g fill="#554b9f" fill-opacity="0.80"><circle cx="343.0" cy="546.7" r="1.88"/><circle cx="345.5" cy="548.1" r="1.88"/><circle cx="340.7" cy="549.8" r="1.88"/><circle cx="333.1" cy="551.5" r="1.88"/><circle cx="342.8" cy="551.5" r="1.88"/><circle cx="341.4" cy="553.5" r="1.88"/><circle cx="338.3" cy="555.5" r="1.88"/><circle cx="343.4" cy="556.2" r="1.88"/><circle cx="340.7" cy="559.5" r="1.88"/><circle cx="337.4" cy="559.5" r="1.88"/><circle cx="345.5" cy="559.3" r="1.88"/><circle cx="352.6" cy="560.2" r="1.88"/><circle cx="328.9" cy="561.1" r="1.88"/><circle cx="336.7" cy="562.5" r="1.88"/><circle cx="345.9" cy="561.9" r="1.88"/><circle cx="348.1" cy="562.9" r="1.88"/><circle cx="346.8" cy="564.9" r="1.88"/><circle cx="328.6" cy="566.3" r="1.88"/><circle cx="342.1" cy="567.3" r="1.88"/><circle cx="347.5" cy="566.5" r="1.88"/><circle cx="333.3" cy="569.2" r="1.88"/><circle cx="338.7" cy="568.9" r="1.88"/><circle cx="342.8" cy="569.6" r="1.88"/><circle cx="348.5" cy="570.3" r="1.88"/><circle cx="342.1" cy="571.6" r="1.88"/><circle cx="337.8" cy="573.7" r="1.88"/><circle cx="344.8" cy="573.2" r="1.88"/><circle cx="346.8" cy="574.3" r="1.88"/><circle cx="343.7" cy="575.9" r="1.88"/><circle cx="350.8" cy="576.1" r="1.88"/><circle cx="340.1" cy="551.2" r="1.88"/><circle cx="344.1" cy="553.9" r="1.88"/><circle cx="345.0" cy="563.6" r="1.88"/><circle cx="341.4" cy="570.6" r="1.88"/><circle cx="345.5" cy="560.2" r="1.88"/><circle cx="346.1" cy="562.9" r="1.88"/><circle cx="344.5" cy="561.1" r="1.88"/><circle cx="342.4" cy="568.3" r="1.88"/><circle cx="343.4" cy="571.0" r="1.88"/><circle cx="341.8" cy="559.5" r="1.88"/><circle cx="339.4" cy="560.2" r="1.88"/><circle cx="345.9" cy="565.6" r="1.88"/><circle cx="343.2" cy="550.8" r="1.88"/><circle cx="341.0" cy="552.1" r="1.88"/><circle cx="344.8" cy="570.3" r="1.88"/><circle cx="346.8" cy="568.3" r="1.88"/><circle cx="338.3" cy="558.9" r="1.88"/><circle cx="344.1" cy="558.2" r="1.88"/></g>
<g fill="#fdd3ad" fill-opacity="0.80"><circle cx="341.4" cy="580.8" r="1.88"/><circle cx="351.2" cy="580.8" r="1.88"/><circle cx="345.0" cy="584.8" r="1.88"/><circle cx="340.7" cy="586.7" r="1.88"/><circle cx="348.1" cy="586.7" r="1.88"/><circle cx="356.2" cy="587.1" r="1.88"/><circle cx="346.1" cy="589.1" r="1.88"/><circle cx="350.8" cy="589.8" r="1.88"/><circle cx="337.4" cy="591.8" r="1.88"/><circle cx="341.4" cy="592.1" r="1.88"/><circle cx="348.8" cy="591.8" r="1.88"/><circle cx="352.9" cy="592.1" r="1.88"/><circle cx="345.5" cy="593.8" r="1.88"/><circle cx="355.5" cy="593.8" r="1.88"/><circle cx="343.4" cy="596.1" r="1.88"/><circle cx="348.8" cy="595.9" r="1.88"/><circle cx="353.1" cy="596.9" r="1.88"/><circle cx="345.5" cy="598.5" r="1.88"/><circle cx="338.1" cy="599.6" r="1.88"/><circle cx="348.1" cy="599.9" r="1.88"/><circle cx="356.2" cy="600.2" r="1.88"/><circle cx="339.1" cy="603.2" r="1.88"/><circle cx="352.9" cy="602.3" r="1.88"/><circle cx="335.4" cy="604.6" r="1.88"/><circle cx="345.5" cy="605.0" r="1.88"/><circle cx="348.1" cy="605.9" r="1.88"/><circle cx="338.1" cy="609.3" r="1.88"/><circle cx="346.8" cy="611.6" r="1.88"/><circle cx="349.9" cy="588.0" r="1.88"/><circle cx="351.5" cy="594.5" r="1.88"/><circle cx="348.5" cy="589.8" r="1.88"/><circle cx="350.2" cy="591.1" r="1.88"/><circle cx="347.7" cy="588.5" r="1.88"/><circle cx="346.8" cy="597.2" r="1.88"/><circle cx="349.5" cy="593.2" r="1.88"/><circle cx="344.8" cy="595.2" r="1.88"/><circle cx="347.2" cy="599.2" r="1.88"/><circle cx="352.2" cy="592.9" r="1.88"/><circle cx="350.4" cy="588.9" r="1.88"/><circle cx="344.5" cy="597.2" r="1.88"/><circle cx="349.1" cy="590.7" r="1.88"/><circle cx="354.2" cy="593.4" r="1.88"/></g>
<rect x="127.30" y="540.40" width="243.60" height="146.80" fill="none" stroke="#1a1a1a" stroke-width="0.60"/>
<path d="M143.31,687.20v2.00M171.88,687.20v2.00M200.45,687.20v2.00M229.02,687.20v2.00M257.59,687.20v2.00M286.16,687.20v2.00M314.73,687.20v2.00M343.30,687.20v2.00M127.30,684.02h-2.00M127.30,667.54h-2.00M127.30,651.06h-2.00M127.30,634.58h-2.00M127.30,618.10h-2.00M127.30,601.62h-2.00M127.30,585.14h-2.00M127.30,568.66h-2.00M127.30,552.18h-2.00" stroke="#222" stroke-width="0.60" fill="none"/>
<g font-size="6.50px"><text x="143.31" y="696.90" text-anchor="middle">−25</text><text x="171.88" y="696.90" text-anchor="middle">−20</text><text x="200.45" y="696.90" text-anchor="middle">−15</text><text x="229.02" y="696.90" text-anchor="middle">−10</text><text x="257.59" y="696.90" text-anchor="middle">−5</text><text x="286.16" y="696.90" text-anchor="middle">0</text><text x="314.73" y="696.90" text-anchor="middle">5</text><text x="343.30" y="696.90" text-anchor="middle">10</text><text x="123.20" y="686.42" text-anchor="end">−8</text><text x="123.20" y="669.94" text-anchor="end">−6</text><text x="123.20" y="653.47" text-anchor="end">−4</text><text x="123.20" y="636.99" text-anchor="end">−2</text><text x="123.20" y="620.50" text-anchor="end">0</text><text x="123.20" y="604.02" text-anchor="end">2</text><text x="123.20" y="587.54" text-anchor="end">4</text><text x="123.20" y="571.07" text-anchor="end">6</text><text x="123.20" y="554.59" text-anchor="end">8</text><text x="249.10" y="705.70" text-anchor="middle">LD1 (0.76)</text><text transform="translate(109.60 613.80) rotate(-90)" text-anchor="middle">LD2 (0.11)</text></g>
<g font-size="7.76px"><text x="249.10" y="536.70" text-anchor="middle">LDA of VISNIR Data from Five Different Leaf Structures</text></g>
<rect x="130.40" y="623.10" width="82.90" height="61.00" rx="1.2" fill="#fff" fill-opacity="0.8" stroke="#cccccc" stroke-width="0.5"/>
<g font-size="6.50px"><circle cx="139.70" cy="628.50" r="2.10" fill="#1c1c1c" fill-opacity="0.78"/><text x="151.90" y="630.90" text-anchor="start">background</text><circle cx="139.70" cy="638.37" r="2.10" fill="#a9d3e6" fill-opacity="0.80"/><text x="151.90" y="640.77" text-anchor="start">apex</text><circle cx="139.70" cy="648.24" r="2.10" fill="#8cc48f" fill-opacity="0.80"/><text x="151.90" y="650.64" text-anchor="start">interveinal tissues</text><circle cx="139.70" cy="658.11" r="2.10" fill="#fbb6c4" fill-opacity="0.80"/><text x="151.90" y="660.51" text-anchor="start">margin</text><circle cx="139.70" cy="667.98" r="2.10" fill="#554b9f" fill-opacity="0.80"/><text x="151.90" y="670.38" text-anchor="start">midrib</text><circle cx="139.70" cy="677.85" r="2.10" fill="#fdd3ad" fill-opacity="0.80"/><text x="151.90" y="680.25" text-anchor="start">veins</text></g>
<g fill="#1c1c1c" fill-opacity="0.78"><circle cx="428.3" cy="550.4" r="1.92"/><circle cx="416.8" cy="555.5" r="1.92"/><circle cx="423.3" cy="559.5" r="1.92"/><circle cx="420.2" cy="561.9" r="1.92"/><circle cx="429.3" cy="562.9" r="1.92"/><circle cx="435.7" cy="561.1" r="1.92"/><circle cx="438.3" cy="564.2" r="1.92"/><circle cx="423.9" cy="564.9" r="1.92"/><circle cx="426.2" cy="566.0" r="1.92"/><circle cx="439.3" cy="566.3" r="1.92"/><circle cx="431.6" cy="566.9" r="1.92"/><circle cx="428.9" cy="568.3" r="1.92"/><circle cx="420.2" cy="569.3" r="1.92"/><circle cx="430.9" cy="569.6" r="1.92"/><circle cx="442.1" cy="569.3" r="1.92"/><circle cx="430.3" cy="571.6" r="1.92"/><circle cx="416.1" cy="573.5" r="1.92"/><circle cx="428.9" cy="574.1" r="1.92"/><circle cx="433.0" cy="574.3" r="1.92"/><circle cx="443.3" cy="573.5" r="1.92"/><circle cx="446.8" cy="573.7" r="1.92"/><circle cx="432.3" cy="576.3" r="1.92"/><circle cx="435.0" cy="577.0" r="1.92"/><circle cx="428.9" cy="578.4" r="1.92"/><circle cx="440.0" cy="578.8" r="1.92"/><circle cx="428.3" cy="580.4" r="1.92"/><circle cx="421.3" cy="581.7" r="1.92"/><circle cx="428.9" cy="582.4" r="1.92"/><circle cx="433.0" cy="582.4" r="1.92"/><circle cx="423.5" cy="584.8" r="1.92"/><circle cx="430.3" cy="585.1" r="1.92"/><circle cx="438.6" cy="585.4" r="1.92"/><circle cx="420.6" cy="591.8" r="1.92"/><circle cx="427.6" cy="581.3" r="1.92"/><circle cx="430.7" cy="570.3" r="1.92"/><circle cx="429.9" cy="568.7" r="1.92"/><circle cx="431.2" cy="567.9" r="1.92"/><circle cx="429.3" cy="579.7" r="1.92"/><circle cx="430.3" cy="583.7" r="1.92"/><circle cx="428.5" cy="581.7" r="1.92"/><circle cx="433.4" cy="575.4" r="1.92"/><circle cx="431.6" cy="575.0" r="1.92"/><circle cx="420.9" cy="569.2" r="1.92"/><circle cx="429.9" cy="584.4" r="1.92"/><circle cx="428.0" cy="579.0" r="1.92"/><circle cx="430.9" cy="572.7" r="1.92"/><circle cx="429.6" cy="570.6" r="1.92"/><circle cx="433.9" cy="576.7" r="1.92"/><circle cx="432.0" cy="567.3" r="1.92"/><circle cx="428.9" cy="583.1" r="1.92"/></g>
<g fill="#a9d3e6" fill-opacity="0.80"><circle cx="511.4" cy="644.7" r="1.92"/><circle cx="518.9" cy="644.4" r="1.92"/><circle cx="533.7" cy="643.3" r="1.92"/><circle cx="511.8" cy="647.4" r="1.92"/><circle cx="514.5" cy="647.8" r="1.92"/><circle cx="526.2" cy="649.1" r="1.92"/><circle cx="512.2" cy="651.0" r="1.92"/><circle cx="536.7" cy="651.7" r="1.92"/><circle cx="517.2" cy="653.2" r="1.92"/><circle cx="519.2" cy="654.1" r="1.92"/><circle cx="524.6" cy="652.8" r="1.92"/><circle cx="526.6" cy="654.8" r="1.92"/><circle cx="523.9" cy="656.8" r="1.92"/><circle cx="530.7" cy="657.7" r="1.92"/><circle cx="521.2" cy="659.5" r="1.92"/><circle cx="526.6" cy="659.9" r="1.92"/><circle cx="536.7" cy="659.9" r="1.92"/><circle cx="530.7" cy="661.5" r="1.92"/><circle cx="522.6" cy="663.5" r="1.92"/><circle cx="525.3" cy="664.2" r="1.92"/><circle cx="532.7" cy="662.9" r="1.92"/><circle cx="537.4" cy="663.9" r="1.92"/><circle cx="534.7" cy="666.2" r="1.92"/><circle cx="521.6" cy="667.6" r="1.92"/><circle cx="530.7" cy="668.2" r="1.92"/><circle cx="528.6" cy="669.3" r="1.92"/><circle cx="521.6" cy="671.2" r="1.92"/><circle cx="533.3" cy="673.3" r="1.92"/><circle cx="526.2" cy="681.0" r="1.92"/><circle cx="520.6" cy="651.4" r="1.92"/><circle cx="525.3" cy="651.4" r="1.92"/><circle cx="523.3" cy="655.5" r="1.92"/><circle cx="525.7" cy="650.1" r="1.92"/><circle cx="521.9" cy="658.5" r="1.92"/><circle cx="527.3" cy="660.4" r="1.92"/><circle cx="531.3" cy="658.8" r="1.92"/><circle cx="524.3" cy="653.7" r="1.92"/><circle cx="527.0" cy="656.8" r="1.92"/><circle cx="519.9" cy="653.7" r="1.92"/><circle cx="522.6" cy="657.5" r="1.92"/><circle cx="528.0" cy="659.5" r="1.92"/><circle cx="529.7" cy="658.1" r="1.92"/><circle cx="523.5" cy="656.1" r="1.92"/><circle cx="531.6" cy="662.2" r="1.92"/><circle cx="525.3" cy="653.4" r="1.92"/><circle cx="521.4" cy="655.0" r="1.92"/><circle cx="525.9" cy="658.1" r="1.92"/><circle cx="518.5" cy="653.4" r="1.92"/></g>
<g fill="#8cc48f" fill-opacity="0.80"><circle cx="563.2" cy="626.3" r="1.92"/><circle cx="573.5" cy="630.1" r="1.92"/><circle cx="576.2" cy="632.1" r="1.92"/><circle cx="584.7" cy="628.7" r="1.92"/><circle cx="587.9" cy="627.4" r="1.92"/><circle cx="592.0" cy="627.4" r="1.92"/><circle cx="583.4" cy="634.1" r="1.92"/><circle cx="573.5" cy="634.8" r="1.92"/><circle cx="580.7" cy="635.9" r="1.92"/><circle cx="583.6" cy="636.8" r="1.92"/><circle cx="576.2" cy="637.5" r="1.92"/><circle cx="578.3" cy="639.1" r="1.92"/><circle cx="570.2" cy="640.4" r="1.92"/><circle cx="574.9" cy="641.5" r="1.92"/><circle cx="579.6" cy="641.2" r="1.92"/><circle cx="566.4" cy="642.9" r="1.92"/><circle cx="581.2" cy="644.2" r="1.92"/><circle cx="592.4" cy="643.8" r="1.92"/><circle cx="567.5" cy="647.6" r="1.92"/><circle cx="576.9" cy="647.6" r="1.92"/><circle cx="582.3" cy="646.9" r="1.92"/><circle cx="590.4" cy="646.9" r="1.92"/><circle cx="591.7" cy="648.9" r="1.92"/><circle cx="570.2" cy="650.2" r="1.92"/><circle cx="587.0" cy="652.3" r="1.92"/><circle cx="561.4" cy="654.6" r="1.92"/><circle cx="575.8" cy="655.0" r="1.92"/><circle cx="583.6" cy="655.2" r="1.92"/><circle cx="574.9" cy="658.6" r="1.92"/><circle cx="577.6" cy="658.3" r="1.92"/><circle cx="576.2" cy="639.5" r="1.92"/><circle cx="576.9" cy="638.1" r="1.92"/><circle cx="578.9" cy="640.2" r="1.92"/><circle cx="575.6" cy="636.4" r="1.92"/><circle cx="577.6" cy="640.8" r="1.92"/><circle cx="574.5" cy="638.8" r="1.92"/><circle cx="579.9" cy="639.5" r="1.92"/><circle cx="576.6" cy="648.2" r="1.92"/><circle cx="583.0" cy="635.5" r="1.92"/><circle cx="578.5" cy="648.0" r="1.92"/><circle cx="591.0" cy="647.6" r="1.92"/><circle cx="575.3" cy="631.0" r="1.92"/><circle cx="578.0" cy="638.5" r="1.92"/><circle cx="575.8" cy="640.4" r="1.92"/><circle cx="580.3" cy="638.1" r="1.92"/><circle cx="573.9" cy="642.2" r="1.92"/><circle cx="583.1" cy="667.6" r="1.92"/></g>
<g fill="#fbb6c4" fill-opacity="0.80"><circle cx="520.2" cy="618.0" r="1.92"/><circle cx="515.2" cy="625.9" r="1.92"/><circle cx="528.4" cy="624.1" r="1.92"/><circle cx="535.8" cy="629.2" r="1.92"/><circle cx="514.1" cy="634.9" r="1.92"/><circle cx="521.2" cy="635.9" r="1.92"/><circle cx="523.3" cy="636.2" r="1.92"/><circle cx="532.9" cy="637.0" r="1.92"/><circle cx="521.9" cy="638.4" r="1.92"/><circle cx="527.3" cy="640.2" r="1.92"/><circle cx="541.4" cy="640.0" r="1.92"/><circle cx="537.4" cy="641.3" r="1.92"/><circle cx="523.9" cy="643.3" r="1.92"/><circle cx="528.6" cy="644.0" r="1.92"/><circle cx="536.0" cy="644.0" r="1.92"/><circle cx="519.2" cy="644.0" r="1.92"/><circle cx="515.9" cy="646.7" r="1.92"/><circle cx="534.7" cy="647.4" r="1.92"/><circle cx="548.8" cy="646.7" r="1.92"/><circle cx="545.0" cy="648.1" r="1.92"/><circle cx="521.2" cy="648.3" r="1.92"/><circle cx="527.3" cy="649.4" r="1.92"/><circle cx="531.3" cy="650.1" r="1.92"/><circle cx="515.9" cy="651.4" r="1.92"/><circle cx="530.0" cy="652.4" r="1.92"/><circle cx="540.5" cy="652.8" r="1.92"/><circle cx="528.0" cy="655.5" r="1.92"/><circle cx="533.3" cy="656.1" r="1.92"/><circle cx="538.7" cy="658.8" r="1.92"/><circle cx="525.9" cy="646.7" r="1.92"/><circle cx="535.4" cy="648.1" r="1.92"/><circle cx="538.3" cy="641.1" r="1.92"/><circle cx="528.0" cy="640.7" r="1.92"/><circle cx="533.7" cy="646.7" r="1.92"/><circle cx="536.7" cy="647.8" r="1.92"/><circle cx="522.6" cy="637.0" r="1.92"/><circle cx="529.3" cy="651.4" r="1.92"/><circle cx="520.3" cy="648.7" r="1.92"/><circle cx="523.5" cy="645.4" r="1.92"/><circle cx="528.4" cy="645.4" r="1.92"/><circle cx="532.9" cy="648.3" r="1.92"/><circle cx="531.6" cy="652.1" r="1.92"/><circle cx="526.6" cy="641.3" r="1.92"/><circle cx="535.1" cy="645.1" r="1.92"/><circle cx="530.2" cy="653.4" r="1.92"/><circle cx="527.3" cy="655.9" r="1.92"/><circle cx="524.9" cy="648.1" r="1.92"/><circle cx="520.6" cy="647.8" r="1.92"/></g>
<g fill="#554b9f" fill-opacity="0.80"><circle cx="616.4" cy="546.7" r="1.92"/><circle cx="628.1" cy="550.8" r="1.92"/><circle cx="636.6" cy="551.7" r="1.92"/><circle cx="626.8" cy="554.8" r="1.92"/><circle cx="630.1" cy="554.4" r="1.92"/><circle cx="619.1" cy="556.2" r="1.92"/><circle cx="640.2" cy="556.8" r="1.92"/><circle cx="623.7" cy="559.3" r="1.92"/><circle cx="627.4" cy="559.3" r="1.92"/><circle cx="645.9" cy="559.1" r="1.92"/><circle cx="611.0" cy="560.5" r="1.92"/><circle cx="637.5" cy="560.2" r="1.92"/><circle cx="617.1" cy="561.9" r="1.92"/><circle cx="618.0" cy="562.2" r="1.92"/><circle cx="629.5" cy="562.9" r="1.92"/><circle cx="633.5" cy="562.6" r="1.92"/><circle cx="637.5" cy="563.6" r="1.92"/><circle cx="642.9" cy="564.9" r="1.92"/><circle cx="612.6" cy="566.9" r="1.92"/><circle cx="625.8" cy="567.3" r="1.92"/><circle cx="628.1" cy="565.6" r="1.92"/><circle cx="629.5" cy="568.3" r="1.92"/><circle cx="621.0" cy="571.4" r="1.92"/><circle cx="631.5" cy="571.6" r="1.92"/><circle cx="639.5" cy="572.7" r="1.92"/><circle cx="627.2" cy="573.7" r="1.92"/><circle cx="629.5" cy="572.7" r="1.92"/><circle cx="616.4" cy="574.3" r="1.92"/><circle cx="605.9" cy="576.7" r="1.92"/><circle cx="624.5" cy="577.0" r="1.92"/><circle cx="626.4" cy="579.0" r="1.92"/><circle cx="628.5" cy="579.7" r="1.92"/><circle cx="623.7" cy="582.0" r="1.92"/><circle cx="632.1" cy="594.5" r="1.92"/><circle cx="628.8" cy="554.4" r="1.92"/><circle cx="627.7" cy="555.2" r="1.92"/><circle cx="630.8" cy="554.1" r="1.92"/><circle cx="624.7" cy="559.5" r="1.92"/><circle cx="626.4" cy="558.9" r="1.92"/><circle cx="636.9" cy="560.9" r="1.92"/><circle cx="637.9" cy="559.5" r="1.92"/><circle cx="630.1" cy="563.6" r="1.92"/><circle cx="628.5" cy="564.6" r="1.92"/><circle cx="626.8" cy="566.9" r="1.92"/><circle cx="625.0" cy="567.9" r="1.92"/><circle cx="627.4" cy="580.0" r="1.92"/><circle cx="625.4" cy="577.7" r="1.92"/><circle cx="628.8" cy="566.9" r="1.92"/><circle cx="629.9" cy="562.2" r="1.92"/><circle cx="635.5" cy="562.9" r="1.92"/></g>
<g fill="#fdd3ad" fill-opacity="0.80"><circle cx="604.1" cy="590.1" r="1.92"/><circle cx="617.5" cy="591.3" r="1.92"/><circle cx="610.5" cy="593.7" r="1.92"/><circle cx="604.9" cy="596.0" r="1.92"/><circle cx="608.1" cy="595.8" r="1.92"/><circle cx="593.7" cy="597.4" r="1.92"/><circle cx="590.6" cy="600.5" r="1.92"/><circle cx="594.1" cy="601.8" r="1.92"/><circle cx="603.8" cy="601.8" r="1.92"/><circle cx="609.2" cy="602.5" r="1.92"/><circle cx="615.2" cy="602.5" r="1.92"/><circle cx="587.9" cy="606.5" r="1.92"/><circle cx="605.2" cy="606.5" r="1.92"/><circle cx="607.2" cy="605.2" r="1.92"/><circle cx="607.9" cy="609.2" r="1.92"/><circle cx="613.0" cy="608.9" r="1.92"/><circle cx="592.0" cy="610.6" r="1.92"/><circle cx="597.4" cy="610.6" r="1.92"/><circle cx="600.5" cy="612.6" r="1.92"/><circle cx="598.4" cy="614.9" r="1.92"/><circle cx="601.8" cy="615.3" r="1.92"/><circle cx="605.8" cy="616.2" r="1.92"/><circle cx="585.7" cy="618.6" r="1.92"/><circle cx="600.0" cy="618.6" r="1.92"/><circle cx="588.3" cy="621.1" r="1.92"/><circle cx="601.1" cy="620.2" r="1.92"/><circle cx="606.2" cy="620.2" r="1.92"/><circle cx="603.1" cy="624.0" r="1.92"/><circle cx="582.3" cy="625.6" r="1.92"/><circle cx="592.4" cy="625.1" r="1.92"/><circle cx="592.0" cy="627.8" r="1.92"/><circle cx="593.1" cy="637.5" r="1.92"/><circle cx="600.9" cy="636.4" r="1.92"/><circle cx="593.1" cy="598.5" r="1.92"/><circle cx="593.3" cy="600.1" r="1.92"/><circle cx="605.8" cy="605.9" r="1.92"/><circle cx="606.5" cy="603.8" r="1.92"/><circle cx="599.1" cy="611.9" r="1.92"/><circle cx="601.1" cy="613.9" r="1.92"/><circle cx="599.8" cy="616.6" r="1.92"/><circle cx="600.9" cy="617.3" r="1.92"/><circle cx="598.7" cy="613.3" r="1.92"/><circle cx="605.4" cy="607.2" r="1.92"/><circle cx="597.8" cy="615.7" r="1.92"/><circle cx="602.2" cy="618.0" r="1.92"/><circle cx="592.8" cy="626.4" r="1.92"/><circle cx="604.5" cy="604.9" r="1.92"/><circle cx="607.6" cy="607.6" r="1.92"/><circle cx="599.5" cy="619.3" r="1.92"/></g>
<rect x="404.70" y="540.40" width="252.90" height="146.80" fill="none" stroke="#1a1a1a" stroke-width="0.60"/>
<path d="M432.12,687.20v2.10M470.98,687.20v2.10M509.84,687.20v2.10M548.70,687.20v2.10M587.56,687.20v2.10M626.42,687.20v2.10M404.70,671.30h-2.10M404.70,652.70h-2.10M404.70,634.10h-2.10M404.70,615.50h-2.10M404.70,596.90h-2.10M404.70,578.30h-2.10M404.70,559.70h-2.10M404.70,541.10h-2.10" stroke="#222" stroke-width="0.60" fill="none"/>
<g font-size="6.70px"><text x="432.12" y="697.10" text-anchor="middle">−15</text><text x="470.98" y="697.10" text-anchor="middle">−10</text><text x="509.84" y="697.10" text-anchor="middle">−5</text><text x="548.70" y="697.10" text-anchor="middle">0</text><text x="587.56" y="697.10" text-anchor="middle">5</text><text x="626.42" y="697.10" text-anchor="middle">10</text><text x="400.00" y="673.78" text-anchor="end">−6</text><text x="400.00" y="655.18" text-anchor="end">−4</text><text x="400.00" y="636.58" text-anchor="end">−2</text><text x="400.00" y="617.98" text-anchor="end">0</text><text x="400.00" y="599.38" text-anchor="end">2</text><text x="400.00" y="580.78" text-anchor="end">4</text><text x="400.00" y="562.18" text-anchor="end">6</text><text x="400.00" y="543.58" text-anchor="end">8</text><text x="531.15" y="706.10" text-anchor="middle">LD1 (0.72)</text><text transform="translate(386.10 613.80) rotate(-90)" text-anchor="middle">LD2 (0.15)</text></g>
<g font-size="8.07px"><text x="531.15" y="536.70" text-anchor="middle">LDA of SWIR Data from Five Different Leaf Structures</text></g>
<rect x="407.30" y="623.10" width="85.80" height="61.00" rx="1.2" fill="#fff" fill-opacity="0.8" stroke="#cccccc" stroke-width="0.5"/>
<g font-size="6.70px"><circle cx="417.20" cy="628.50" r="2.15" fill="#1c1c1c" fill-opacity="0.78"/><text x="429.70" y="630.98" text-anchor="start">background</text><circle cx="417.20" cy="638.37" r="2.15" fill="#a9d3e6" fill-opacity="0.80"/><text x="429.70" y="640.85" text-anchor="start">apex</text><circle cx="417.20" cy="648.24" r="2.15" fill="#8cc48f" fill-opacity="0.80"/><text x="429.70" y="650.72" text-anchor="start">interveinal tissues</text><circle cx="417.20" cy="658.11" r="2.15" fill="#fbb6c4" fill-opacity="0.80"/><text x="429.70" y="660.59" text-anchor="start">margin</text><circle cx="417.20" cy="667.98" r="2.15" fill="#554b9f" fill-opacity="0.80"/><text x="429.70" y="670.46" text-anchor="start">midrib</text><circle cx="417.20" cy="677.85" r="2.15" fill="#fdd3ad" fill-opacity="0.80"/><text x="429.70" y="680.33" text-anchor="start">veins</text></g>
</svg>
</body></html>
